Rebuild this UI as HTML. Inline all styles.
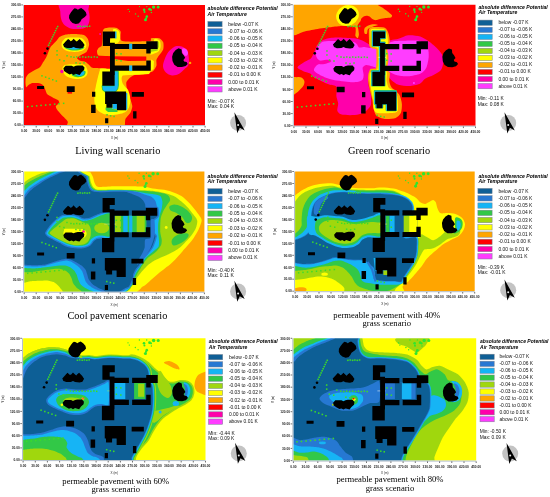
<!DOCTYPE html>
<html lang="en"><head><meta charset="utf-8"><title>Scenario maps</title>
<style>
html,body{margin:0;padding:0;background:#fff}
body{width:550px;height:497px;overflow:hidden;position:relative}
svg{position:absolute;left:0;top:0;display:block}
text{font-family:"Liberation Sans",sans-serif;fill:#000}
.tk text{font-size:3.2px;fill:#222;font-weight:bold}
.ax{font-size:3px;fill:#1a1a1a}
.lt{font-size:4.94px;font-weight:bold;font-style:italic}
.ll{font-size:4.72px;fill:#111}
.cap{font-family:"Liberation Serif",serif;font-size:10.35px}
.cap2{font-family:"Liberation Serif",serif;font-size:8.62px}
</style></head>
<body>
<svg width="550" height="497" viewBox="0 0 550 497">
<defs><clipPath id="mcp1"><rect x="0" y="0" width="181" height="120.2"/></clipPath><clipPath id="mcp2"><rect x="0" y="0" width="181.6" height="121"/></clipPath><clipPath id="mcp3"><rect x="0" y="0" width="180.2" height="120.3"/></clipPath><clipPath id="mcp4"><rect x="0" y="0" width="179.6" height="119.7"/></clipPath><clipPath id="mcp5"><rect x="0" y="0" width="182.4" height="121.8"/></clipPath><clipPath id="mcp6"><rect x="0" y="0" width="182.8" height="122.3"/></clipPath>
<filter id="bl" x="-5%" y="-5%" width="110%" height="110%"><feGaussianBlur stdDeviation="0.4"/></filter>
<g id="bld" fill="#000"><path d="M78.7 26.6H91V33.4H78.7ZM78.7 33.4H85.9V41H78.7ZM85.9 37.8H90.7V70H85.9ZM85.9 39H105V44.2H85.9ZM108.2 39H126.6V44.2H108.2ZM122.2 36.3H133.6V44.2H122.2ZM122.2 44.2H126.6V48.6H122.2ZM90.7 60.7H105V65.8H90.7ZM108.2 60.7H126.6V65.8H108.2ZM122.2 55.6H126.6V65.8H122.2ZM78.2 66.5H90.5V80.8H78.2ZM81 86.5H102V99H81ZM82.3 99H88.3V102.8H82.3ZM92.8 99H102V105.4H92.8ZM67.9 86.8H71.2V91.9H67.9ZM67 99.9H71.5V108H67ZM81 113.3H84.2V118.4H81ZM107.7 87.2H119.8V91.9H107.7ZM109 106.3H112.4V113.5H109ZM13 81H20V84H13ZM42.7 81.4H50.6V87H42.7Z"/><path d="M50.5 3.4 L49.1 4.5 L46.9 7.4 L45.1 10.3 L44.9 13.2 L46.2 15.8 L48.4 18 L51.6 19 L54.5 18.7 L56.4 16.5 L57.5 14.3 L60.7 12.1 L62.5 10 L61.8 7.4 L59.6 4.9 L57.1 3.2 L55.3 3.8 L53.8 4.9 L52.4 3.8Z"/><path d="M44 34.1 L41.5 36.7 L38.9 39.6 L40 42.1 L42.9 43.2 L47.3 43.1 L49.5 42.1 L51.6 43.1 L56 43.6 L58.9 42.9 L60.5 40 L58.5 37 L55.6 34.1 L53.8 35.6 L52.7 36.7 L51.3 35.6 L49.5 33.8 L48 35.6 L46.5 36.3 L45.5 35.2Z"/><path d="M41.5 60.9 L39.3 63.4 L40 66 L42.9 68.1 L45.5 69.6 L47.6 68.9 L49.5 70 L51.6 68.9 L53.8 69.6 L55.6 70 L57.5 67.4 L60 65.2 L60.4 62.7 L58.5 60.5 L53.8 60.5 L51.6 60.9 L49.5 61.8 L47.6 60.9Z"/><path d="M154.5 43.4 L151.6 45.2 L149.1 48.1 L148 51.8 L148.4 56.1 L150.2 59.8 L153.5 62 L157.8 62.1 L161.5 61.2 L163.6 59 L162.5 57.2 L160 56.5 L159.3 55 L161.1 52.9 L159.6 50.3 L157.8 48.1 L157.5 44.5Z"/><circle cx="23.4" cy="43.7" r="1.3"/><circle cx="20.8" cy="48.3" r="1.3"/></g>
<g id="veg" fill="#3cdc28"><rect x="32.8" y="20.9" width="1.5" height="1.5"/><rect x="31.7" y="22.9" width="1.5" height="1.5"/><rect x="30.7" y="25" width="1.5" height="1.5"/><rect x="29.7" y="27.1" width="1.5" height="1.5"/><rect x="28.7" y="29.2" width="1.5" height="1.5"/><rect x="27.7" y="31.2" width="1.5" height="1.5"/><rect x="26.7" y="33.3" width="1.5" height="1.5"/><rect x="25.7" y="35.4" width="1.5" height="1.5"/><rect x="24.7" y="37.5" width="1.5" height="1.5"/><rect x="23.7" y="39.6" width="1.5" height="1.5"/><rect x="53.2" y="20.9" width="1.5" height="1.5"/><rect x="55.5" y="20.6" width="1.5" height="1.5"/><rect x="57.9" y="20.9" width="1.5" height="1.5"/><rect x="60.1" y="20.6" width="1.5" height="1.5"/><rect x="62.5" y="20.9" width="1.5" height="1.5"/><rect x="64.8" y="20.6" width="1.5" height="1.5"/><rect x="2.8" y="101" width="1.5" height="1.5"/><rect x="7.2" y="100.6" width="1.5" height="1.5"/><rect x="11.8" y="100.2" width="1.5" height="1.5"/><rect x="16.2" y="99.8" width="1.5" height="1.5"/><rect x="20.8" y="99.4" width="1.5" height="1.5"/><rect x="25.2" y="99" width="1.5" height="1.5"/><rect x="29.8" y="98.5" width="1.5" height="1.5"/><rect x="34.2" y="98.1" width="1.5" height="1.5"/><rect x="38.8" y="97.7" width="1.5" height="1.5"/><rect x="17.1" y="70.2" width="1.5" height="1.5"/><rect x="20.8" y="71.5" width="1.5" height="1.5"/><rect x="24.3" y="72.8" width="1.5" height="1.5"/><rect x="27.9" y="74.1" width="1.5" height="1.5"/><rect x="31.5" y="75.4" width="1.5" height="1.5"/><rect x="46.2" y="51.2" width="1.5" height="1.5"/><rect x="49.1" y="51.6" width="1.5" height="1.5"/><rect x="52" y="51.2" width="1.5" height="1.5"/><rect x="55" y="51.6" width="1.5" height="1.5"/><rect x="57.9" y="51.2" width="1.5" height="1.5"/><rect x="60.8" y="51.6" width="1.5" height="1.5"/><rect x="63.7" y="51.2" width="1.5" height="1.5"/><rect x="66.5" y="51.6" width="1.5" height="1.5"/><rect x="69.5" y="51.2" width="1.5" height="1.5"/><rect x="72.3" y="51.6" width="1.5" height="1.5"/><rect x="32.2" y="45.2" width="1.5" height="1.5"/><rect x="32.2" y="49.2" width="1.5" height="1.5"/><rect x="34.8" y="54.2" width="1.5" height="1.5"/><rect x="39.2" y="55.2" width="1.5" height="1.5"/><rect x="42.2" y="50.2" width="1.5" height="1.5"/><rect x="51.2" y="57.2" width="1.5" height="1.5"/><rect x="55.2" y="57.8" width="1.5" height="1.5"/><rect x="59.2" y="57.2" width="1.5" height="1.5"/><rect x="91.8" y="48" width="1.5" height="1.5"/><rect x="91.8" y="54.5" width="1.5" height="1.5"/><rect x="96.2" y="48.2" width="1.5" height="1.5"/><rect x="96.2" y="55.2" width="1.5" height="1.5"/><rect x="82.2" y="109.2" width="1.5" height="1.5"/><rect x="85.8" y="110.2" width="1.5" height="1.5"/><rect x="89.2" y="110.8" width="1.5" height="1.5"/><g fill="#2ee62e"><circle cx="120" cy="4.9" r="1.3"/><circle cx="120.4" cy="7.2" r="1"/><circle cx="125.5" cy="4.3" r="1.4"/><circle cx="127" cy="5" r="1"/><circle cx="129.5" cy="2.2" r="1.7"/><circle cx="134.1" cy="2.2" r="1.5"/><circle cx="122.7" cy="11.7" r="1.3"/><circle cx="121.4" cy="14.9" r="1.5"/><circle cx="122" cy="13.3" r="1"/><circle cx="115.4" cy="1.7" r="0.7"/><circle cx="122.7" cy="1.7" r="0.7"/><circle cx="104.1" cy="4.5" r="0.7"/><circle cx="105.4" cy="6.7" r="0.7"/><circle cx="111.4" cy="9" r="0.7"/><circle cx="114.1" cy="11.3" r="0.7"/><circle cx="127.3" cy="7.6" r="0.7"/></g></g>
</defs>
<g transform="translate(24.1 4.9)"><g clip-path="url(#mcp1)"><g filter="url(#bl)"><rect x="-5" y="-5" width="198" height="136" fill="#FF0000"/><path d="M36.5 -2C32.1 -0.6 36.1 3.7 36.2 6.5C36.3 9.3 36.5 12.4 37.2 14.7C37.9 17 38.9 18.8 40.6 20.3C42.3 21.8 45 23.2 47.5 23.8C50 24.4 53.2 24.2 55.6 24C58 23.8 60.5 23.3 62 22.3C63.5 21.3 64.2 19.8 64.8 18C65.4 16.2 65.6 13.7 65.5 11.5C65.4 9.3 64.8 7.2 64.3 4.9C63.8 2.7 67.1 -0.8 62.5 -2C57.9 -3.2 40.9 -3.4 36.5 -2Z" fill="#FF00AA" /><path d="M154 41.2C152.6 41.1 151.9 40.8 150.3 41.8C148.7 42.8 145.8 45.1 144.2 47.2C142.6 49.3 141.5 52 140.6 54.4C139.7 56.8 138.7 59.5 138.9 61.7C139.1 63.9 140.3 66.2 141.8 67.7C143.3 69.2 145.7 70.4 147.9 70.6C150.1 70.8 152.9 70.1 155.1 68.9C157.3 67.7 159.7 64.8 161.2 63.4C162.7 62 163.4 61.9 164 60.5C164.6 59.1 164.9 57.2 164.8 55C164.7 52.8 164.5 49.1 163.5 47C162.5 44.9 160.6 43.2 159 42.2C157.4 41.2 155.4 41.3 154 41.2Z" fill="#FF00AA" /><path d="M158 44C158.5 43.2 161 43.3 162 44C163 44.7 164 46.8 164 48C164 49.2 162.8 50.8 162 51C161.2 51.2 159.7 50.2 159 49C158.3 47.8 157.5 44.8 158 44Z" fill="#FF3CFF" /><circle cx="166" cy="58" r="1.2" fill="#FFA500"/><path d="M45.4 127C39.3 125.8 44.2 118.5 43.7 116.9C43.2 115.3 41.6 114.3 40.8 113.4C40 112.5 37.5 110.2 36.6 109.2C35.7 108.2 33.7 105.8 33.1 104.9C32.5 104 31.5 102.2 31.7 101.4C31.9 100.6 35 98.6 35.2 97.9C35.4 97.2 34.6 95.8 33.8 95.1C33 94.4 29.4 93 28.2 92.3C27 91.6 24 90.3 23.2 89.4C22.4 88.5 21.6 85.6 21.1 84.5C20.6 83.4 19.8 81 19 80.3C18.2 79.6 15.3 78.4 14.1 78.2C12.9 78 9.7 78 8.5 78.2C7.3 78.4 4.9 79.8 4.2 80.3C3.5 80.8 2.4 82.6 2.1 82.4C1.8 82.2 1.4 79.3 1.4 78.2C1.4 77.1 1.4 74.3 1.7 73.2C2 72.1 3.2 69.9 4.2 69C5.2 68.1 8.6 66.2 9.9 65.5C11.2 64.8 14.5 63.5 15.5 62.7C16.5 61.9 17.6 59.5 18.3 58.5C19 57.5 20.5 55.2 21.1 54.2C21.7 53.2 22.6 51.4 23.2 50C23.8 48.6 25.4 43.8 26.5 42.2C27.6 40.6 31.4 37.1 32.4 35.9C33.4 34.7 34.4 32.9 35.4 32.2C36.4 31.5 39 30.2 40.9 29.8C42.8 29.4 49.4 29.1 51.7 29.2C54 29.3 58.8 29.8 60.2 30.4C61.6 31 63.2 33 63.8 34.1C64.4 35.2 65 38.3 65 39.5C65 40.7 64.1 43.4 63.8 44.3C63.4 45.2 62.7 46.7 62 47.3C61.3 47.9 58.7 49 57.8 49.5C56.9 50 55.1 51 54.5 51.5C53.9 52 52.7 52.9 52.9 53.4C53.1 53.9 55 55.4 56 55.8C57 56.2 60.4 56.5 61.4 57C62.4 57.5 64.3 59.4 65 60C65.7 60.6 66.7 62.1 67.5 62.5C68.3 62.9 70.2 63.1 71.7 63.2C73.2 63.3 78.3 63.5 80 63.5C81.7 63.5 85.3 64.8 86 63.5C86.7 62.2 87.2 53.4 86 52C84.8 50.6 77.5 52.1 76 51.8C74.5 51.5 73.9 50.2 73.5 49.5C73.1 48.8 72.8 46.8 72.9 46C73 45.2 74 43.6 74.5 43C75 42.4 77 42.2 77.5 41.2C78 40.2 78.3 35.7 78.4 34C78.5 32.3 78.4 28.2 78.6 27C78.8 25.8 79.3 24.3 80 23.8C80.7 23.3 83.6 22.7 85 22.6C86.4 22.5 90.7 22.4 92 22.9C93.3 23.4 95.8 24.9 96.5 26.5C97.2 28.1 94.8 35.1 98.1 36.2C101.4 37.3 121.7 36.5 125.1 36.2C128.5 35.9 125.8 33.6 127 33.3C128.2 33 133.8 32.8 135.2 33.3C136.6 33.8 138.6 36.1 139.1 37.4C139.6 38.7 139.6 43.1 139.1 44.6C138.6 46.1 136 49 135.2 50.2C134.4 51.4 132.6 53.8 132.3 55C132 56.2 132.7 59.5 132.3 60.8C131.9 62.1 130.1 65.3 128.7 66.3C127.3 67.3 122.4 68.8 120.3 69.2C118.2 69.6 112.3 69.6 110.6 70C108.9 70.4 106.8 72 105.8 72.9C104.8 73.8 102.5 76.1 102.2 77.7C101.9 79.3 102.9 84.9 103.4 86.9C103.9 88.9 105.7 92.9 106.3 94.6C106.9 96.3 108.2 99.8 108.2 101.3C108.2 102.8 107.1 106.3 106.3 107.8C105.5 109.3 102.6 111.7 101.4 113.9C100.2 116.1 102.6 125.5 96.1 127C89.6 128.5 51.5 128.2 45.4 127Z" fill="#FFA500" /><path d="M72 50.6 L86 51.4 L122.2 51.6 L122.2 55.8 L104 56 L86 53.6 L72 52.4Z" fill="#FF0000" /><circle cx="76" cy="29" r="1" fill="#FF00AA"/><rect x="43.5" y="86.5" width="4.5" height="2.2" fill="#FF0000"/><path d="M37.5 38.5C37.7 37.1 38.6 35.9 39.5 35C40.4 34.1 41.2 33.3 43 32.9C44.8 32.5 47.7 32.6 50 32.6C52.3 32.6 55.2 32.5 57 33C58.8 33.5 59.6 34.6 60.5 35.8C61.4 37 62.2 38.8 62.3 40.1C62.4 41.4 61.9 42.7 61 43.7C60.1 44.7 59 45.6 57.2 46.1C55.5 46.6 52.8 47 50.5 47C48.2 47 45.3 46.8 43.3 46.1C41.3 45.5 39.5 44.4 38.5 43.1C37.5 41.8 37.3 39.9 37.5 38.5Z" fill="#FFFF00" /><path d="M41.5 41.5C44.1 41 56.2 41 59 41.5C61.8 42 59.4 43.6 58 44.3C56.6 45 53 45.6 50.5 45.6C48 45.6 44.7 45 43.2 44.3C41.7 43.6 38.9 42 41.5 41.5Z" fill="#32C846" /><path d="M45 42C46.6 41.7 54.5 41.6 56 42C57.5 42.4 55 43.8 54 44.2C53 44.6 51.2 44.6 50 44.6C48.8 44.6 47.3 44.4 46.5 44C45.7 43.6 43.4 42.3 45 42Z" fill="#14B4F5" /><path d="M38.3 64C38.2 62.5 39 61.2 40 60.5C41 59.8 42 59.8 44 59.6C46 59.4 49.5 59.4 52 59.4C54.5 59.4 57.3 59.2 59 59.6C60.7 60 61.2 60.9 62 62C62.8 63.1 63.4 65.1 63.5 66.5C63.6 67.9 63.3 69.4 62.5 70.5C61.7 71.6 60.2 72.7 58.5 73.3C56.8 73.9 54.2 74.1 52 74C49.8 73.9 46.9 73.2 45 72.5C43.1 71.8 41.6 70.9 40.5 69.5C39.4 68.1 38.4 65.5 38.3 64Z" fill="#FFFF00" /><path d="M48 69C49.5 68.1 56.8 66.3 59 66C61.2 65.7 61.3 66.2 61.5 67C61.7 67.8 61 69.6 60 70.5C59 71.4 57.2 72 55.5 72.2C53.8 72.4 51.2 72 50 71.5C48.8 71 46.5 69.9 48 69Z" fill="#32C846" /><path d="M52 69C52.7 68.2 57.1 66.8 58.5 66.5C59.9 66.2 60.3 66.9 60.3 67.5C60.3 68.1 59.5 69.7 58.5 70.3C57.5 70.9 55.6 71.4 54.5 71.2C53.4 71 51.3 69.8 52 69Z" fill="#14B4F5" /><circle cx="37.8" cy="66.6" r="1.7" fill="#FF00AA"/><path d="M78.5 63.6C74 63.5 76.3 64.6 75.8 65.4C75.3 66.2 74.9 68.3 74.5 69.7C74.1 71.1 73.4 74.1 73 75.7C72.6 77.3 72 80.1 71.7 81.7C71.4 83.3 70.7 86.2 70.5 87.8C70.3 89.4 70.2 92.2 70.2 93.8C70.2 95.4 70.4 98.4 70.8 99.9C71.2 101.4 72.4 104.1 73.5 105.3C74.6 106.5 77.6 108.2 79 108.8C80.4 109.4 82.6 109.6 84 109.8C85.4 110 87.6 110.1 89.3 110C91 109.9 94.9 109.4 96.6 108.9C98.3 108.4 100.9 107.4 102 106.5C103.1 105.6 104.4 103.7 105 102.3C105.6 100.9 106.1 97.8 106.2 96.2C106.3 94.6 105.9 91.7 105.6 90.2C105.3 88.7 104.4 85.9 103.8 84.8C103.2 83.7 101.5 82.6 100.8 81.7C100.1 80.8 98.8 79.2 98.4 78.1C98 77 97.4 74.4 97.5 73.3C97.6 72.2 98.5 70.5 99 69.7C99.5 68.9 100.6 67.9 101.6 67.5C102.6 67.1 105.1 66.8 106.2 66.6C107.3 66.4 113.6 66.4 109.9 66C106.2 65.6 83 63.7 78.5 63.6Z" fill="#FFFF00" /><path d="M90.7 65.5 L127 65.8 L129.5 64 L129.8 56 L127 54.5 L126.6 66 L125 69 L115 69.8 L105 70 L98 70.5 L90.7 70Z" fill="#FFFF00" /><path d="M89 24.6C89.6 23.5 92.4 24.5 93.5 25.2C94.6 25.9 95.5 27.3 95.8 29C96.1 30.7 96.2 33.9 95.6 35.5C95 37.1 93.5 38.1 92 38.6C90.5 39.1 87.4 39.4 86.5 38.6C85.6 37.8 85.9 35.1 86.5 34C87.1 32.9 89.6 33.6 90 32C90.4 30.4 88.4 25.7 89 24.6Z" fill="#FFFF00" /><path d="M126 49.3C126.5 50 127.7 49.4 129 49C130.3 48.6 132.8 47.8 134 46.8C135.2 45.8 135.9 44.5 136.3 43C136.7 41.5 136.6 38.9 136.3 37.5C136 36.1 135.6 35.3 134.5 34.8C133.4 34.3 130.8 32.9 130 34.5C129.2 36.1 130.7 42.8 130 44.5C129.3 46.2 126.7 44.2 126 45C125.3 45.8 125.5 48.6 126 49.3Z" fill="#FFFF00" /><path d="M126.6 44.2 L133.6 44.2 L134.8 42 L134.8 37 L133.6 36.3 L133.6 45.5 L126.6 47Z" fill="#A0D70F" /><path d="M90.5 66.5 L93.6 66.8 L93.8 80 L93.2 83.5 L91.2 86.3 L81.3 86.5 L79 84.5 L78.6 81.3 L90.5 81.3Z" fill="#32C846" stroke="#32C846" stroke-width="2.2" stroke-linejoin="round" /><path d="M90.5 66.5 L93.6 66.8 L93.8 80 L93.2 83.5 L91.2 86.3 L81.3 86.5 L79 84.5 L78.6 81.3 L90.5 81.3Z" fill="#14B4F5" stroke="#14B4F5" stroke-width="0.3" stroke-linejoin="round" /><path d="M81.5 102.5 L88.3 102.5 L88.3 104 L93 104.5 L93.5 107 L84 107 L81.5 105Z" fill="#32C846" /><path d="M88.3 98.5 L93 98.5 L93 104 L88.3 104Z" fill="#14B4F5" /><path d="M101.8 88 L103.2 88 L103.2 104 L101.8 105.8Z" fill="#14B4F5" /><path d="M90.8 26.6 L92.4 26.6 L92.4 33.6 L90.8 33.6Z" fill="#14B4F5" /><path d="M105 38.8 L108.2 38.8 L108.2 44.4 L105 44.4Z" fill="#14B4F5" /><path d="M105 60.5 L108.2 60.5 L108.2 66.2 L105 66.2Z" fill="#14B4F5" /><g transform="scale(1.0000 1.0000)"><use href="#veg"/><use href="#bld"/></g></g></g><path d="M-0.6 0V120.7H181" stroke="#b4bfcc" stroke-width="1" fill="none"/><path d="M-2.8 120.2H-1.2M-2.8 108.2H-1.2M-2.8 96.2H-1.2M-2.8 84.1H-1.2M-2.8 72.1H-1.2M-2.8 60.1H-1.2M-2.8 48.1H-1.2M-2.8 36.1H-1.2M-2.8 24H-1.2M-2.8 12H-1.2M-2.8 0H-1.2M0 121V122.6M12.1 121V122.6M24.1 121V122.6M36.2 121V122.6M48.3 121V122.6M60.3 121V122.6M72.4 121V122.6M84.5 121V122.6M96.5 121V122.6M108.6 121V122.6M120.7 121V122.6M132.7 121V122.6M144.8 121V122.6M156.9 121V122.6M168.9 121V122.6M181 121V122.6" stroke="#333" stroke-width="0.7" fill="none"/><g class="tk" text-anchor="end"><text x="-3.4" y="121.4">0.00</text><text x="-3.4" y="109.4">30.00</text><text x="-3.4" y="97.4">60.00</text><text x="-3.4" y="85.3">90.00</text><text x="-3.4" y="73.3">120.00</text><text x="-3.4" y="61.3">150.00</text><text x="-3.4" y="49.3">180.00</text><text x="-3.4" y="37.3">210.00</text><text x="-3.4" y="25.2">240.00</text><text x="-3.4" y="13.2">270.00</text><text x="-3.4" y="1.2">300.00</text></g><g class="tk" text-anchor="middle"><text x="0" y="127.4">0.00</text><text x="12.1" y="127.4">30.00</text><text x="24.1" y="127.4">60.00</text><text x="36.2" y="127.4">90.00</text><text x="48.3" y="127.4">120.00</text><text x="60.3" y="127.4">150.00</text><text x="72.4" y="127.4">180.00</text><text x="84.5" y="127.4">210.00</text><text x="96.5" y="127.4">240.00</text><text x="108.6" y="127.4">270.00</text><text x="120.7" y="127.4">300.00</text><text x="132.7" y="127.4">330.00</text><text x="144.8" y="127.4">360.00</text><text x="156.9" y="127.4">390.00</text><text x="168.9" y="127.4">420.00</text><text x="181" y="127.4">450.00</text></g><text class="ax" text-anchor="middle" x="90.5" y="134">X (m)</text><text class="ax" text-anchor="middle" transform="translate(-19.3 60.1) rotate(-90)">Y (m)</text><text class="lt" x="183.5" y="5.2" textLength="70" lengthAdjust="spacingAndGlyphs" style="font-size:5.08px">absolute difference Potential</text><text class="lt" x="183.5" y="11.2" textLength="39.2" lengthAdjust="spacingAndGlyphs" style="font-size:5.08px">Air Temperature</text><rect x="183.8" y="16.6" width="14.2" height="5.3" fill="#0F5F96" stroke="#76828f" stroke-width="0.5"/><text class="ll" x="204.1" y="20.7" style="font-size:4.98px">below -0.07 K</text><rect x="183.8" y="23.8" width="14.2" height="5.3" fill="#2878D2" stroke="#76828f" stroke-width="0.5"/><text class="ll" x="204.1" y="27.9" style="font-size:4.98px">-0.07 to -0.06 K</text><rect x="183.8" y="31" width="14.2" height="5.3" fill="#14B4F5" stroke="#76828f" stroke-width="0.5"/><text class="ll" x="204.1" y="35.2" style="font-size:4.98px">-0.06 to -0.05 K</text><rect x="183.8" y="38.3" width="14.2" height="5.3" fill="#32C846" stroke="#76828f" stroke-width="0.5"/><text class="ll" x="204.1" y="42.4" style="font-size:4.98px">-0.05 to -0.04 K</text><rect x="183.8" y="45.5" width="14.2" height="5.3" fill="#A0D70F" stroke="#76828f" stroke-width="0.5"/><text class="ll" x="204.1" y="49.7" style="font-size:4.98px">-0.04 to -0.03 K</text><rect x="183.8" y="52.8" width="14.2" height="5.3" fill="#FFFF00" stroke="#76828f" stroke-width="0.5"/><text class="ll" x="204.1" y="56.9" style="font-size:4.98px">-0.03 to -0.02 K</text><rect x="183.8" y="60" width="14.2" height="5.3" fill="#FFA500" stroke="#76828f" stroke-width="0.5"/><text class="ll" x="204.1" y="64.2" style="font-size:4.98px">-0.02 to -0.01 K</text><rect x="183.8" y="67.3" width="14.2" height="5.3" fill="#FF0000" stroke="#76828f" stroke-width="0.5"/><text class="ll" x="204.1" y="71.4" style="font-size:4.98px">-0.01 to 0.00 K</text><rect x="183.8" y="74.5" width="14.2" height="5.3" fill="#FF00AA" stroke="#76828f" stroke-width="0.5"/><text class="ll" x="204.1" y="78.7" style="font-size:4.98px">0.00 to 0.01 K</text><rect x="183.8" y="81.8" width="14.2" height="5.3" fill="#FF3CFF" stroke="#76828f" stroke-width="0.5"/><text class="ll" x="204.1" y="85.9" style="font-size:4.98px">above 0.01 K</text><text class="ll" x="183.5" y="98.1" style="font-size:4.98px">Min: -0.07 K</text><text class="ll" x="183.5" y="103.5" style="font-size:4.98px">Max: 0.04 K</text><circle cx="214" cy="118" r="8" fill="#c3c3c3"/><path d="M210.3 107.3L220.6 125.6L215.7 122.8L213.1 128.4Z" fill="#000"/><circle cx="214" cy="120" r="1" fill="#e8e8e8"/></g><text class="cap" text-anchor="middle" x="117.8" y="154.3">Living wall scenario</text>
<g transform="translate(293.9 4.7)"><g clip-path="url(#mcp2)"><g filter="url(#bl)"><rect x="-5" y="-5" width="198" height="136" fill="#FF0000"/><path d="M-2 -2C6.6 -5.2 75.3 -2.2 83.9 -2C92.5 -1.8 83.6 -0.2 84 0.3C84.4 0.8 87.3 2.2 88.3 2.9C89.3 3.5 92.7 6 93.7 6.8C94.7 7.6 97.8 10 98.1 10.6C98.4 11.2 97.7 12.4 97 12.7C96.3 13 92.6 13.1 91.5 13.3C90.4 13.5 87.1 14.2 86.1 14.4C85.1 14.6 82.5 15.5 81.7 15.5C80.9 15.5 79 14.7 78.5 14.4C78 14.1 76.8 12.5 76.3 12.2C75.8 11.9 74.2 11.2 73.5 11.1C72.8 11 70.3 11.4 69.7 11.7C69.1 12 67.8 13.3 67.5 13.8C67.2 14.3 66.8 16.1 66.5 16.6C66.2 17.1 65.1 18.3 64.8 18.7C64.5 19.1 63.6 20.4 63.6 21C63.6 21.6 64.4 24.1 64.5 25C64.6 25.9 65.1 29.1 65 30C64.9 30.9 64.2 33.4 63.9 33.5C63.5 33.6 61.7 31.6 61.5 31C61.3 30.4 61.8 27.8 61.8 27C61.8 26.2 62 23.2 61.3 22.6C60.6 22.1 56.3 21.6 55 21.5C53.7 21.4 49.8 21.2 48.3 21.3C46.8 21.4 41.8 21.8 40 22C38.2 22.2 31.8 23 30 23.3C28.2 23.6 23.7 24.2 21.7 24.6C19.7 25 12.1 26.5 9.7 27C7.3 27.5 -0.8 32.7 -2 29.8C-3.2 26.9 -10.6 1.2 -2 -2Z" fill="#FFA500" /><path d="M-2 74C-1.2 71.2 1.3 72.7 3 72.5C4.7 72.3 6.8 72.3 8 73C9.2 73.7 10.2 75.2 10.5 76.5C10.8 77.8 10.2 79.6 9.5 81C8.8 82.4 7.2 83.8 6 85C4.8 86.2 3.3 87.8 2 88.5C0.7 89.2 -1.3 91.9 -2 89.5C-2.7 87.1 -2.8 76.8 -2 74Z" fill="#FFA500" /><ellipse cx="53.6" cy="10.8" rx="11.6" ry="10.2" fill="#FFFF00" transform="rotate(-25 53.6 10.8)"/><path d="M3.6 62.6C3.9 61.4 9.1 58.3 10.9 57.1C12.7 55.9 15.9 54.9 17.2 53.5C18.5 52.1 20 48.1 20.8 46.3C21.6 44.5 22.4 41.5 23.5 40C24.6 38.5 27.3 36.3 29 35.4C30.7 34.5 34.3 33.7 36.2 33.3C38.1 32.9 40.3 32.7 43.4 32.7C46.5 32.7 56.6 33.2 59.7 33.6C62.8 34 65.3 34.8 67 35.4C68.7 36 71.1 37.4 72.4 38.1C73.7 38.8 75.1 40 76.9 40.5C78.7 41 84.8 38.1 86 41.5C87.2 44.9 87.2 62.6 86 66C84.8 69.4 78.3 66.5 77 67C75.7 67.5 76.4 68.7 76 70C75.6 71.3 74.3 75.1 74.2 77C74.1 78.9 75.1 82.3 75.5 84C75.9 85.7 76.8 87.9 77 90C77.2 92.1 77.6 97.9 77 100C76.4 102.1 74 104.7 72.4 106C70.8 107.3 67.4 109 65.2 109.6C63 110.2 58.5 110.5 56.1 110.5C53.7 110.5 48.7 110.2 47 109.6C45.3 109 43.8 107.4 43.4 106C43 104.6 44.4 100.7 44.3 98.8C44.2 96.9 42.7 93.7 42.5 91.5C42.3 89.3 43.5 83.6 42.5 82C41.5 80.4 37.4 80.6 35.3 79.8C33.2 79 29.2 77.2 27.1 76.2C25 75.2 21.3 73.5 19.9 72.5C18.5 71.5 17.8 69.7 16.3 68.9C14.8 68.1 10.7 67 9 66.2C7.3 65.4 3.3 63.8 3.6 62.6Z" fill="#FF00AA" /><path d="M22.6 44.5C23.3 43 25.5 39.2 27.1 38.1C28.7 37 30.1 36.4 34.4 36.3C38.7 36.2 55.6 36.3 59.7 37.2C63.8 38.1 63.7 42 65.2 42.7C66.7 43.4 69.2 42.2 70.6 42.3C72 42.4 73.9 43.2 76 43.3C78.1 43.4 84.7 40.7 86 43.3C87.3 45.9 87 60.1 86 62.5C85 64.9 80 61.8 78.2 61.5C76.4 61.2 73.7 60.1 72.4 60.3C71.1 60.5 69.2 61.6 68.8 62.9C68.4 64.2 69.8 68.6 69.7 70.2C69.6 71.8 69.5 74.2 68.4 75.2C67.3 76.2 63.9 77.2 61.5 77.4C59.1 77.6 53.6 77 50.7 76.7C47.8 76.4 42.5 75.8 39.8 75.2C37.1 74.6 33 73.3 30.8 72.5C28.6 71.7 25 69.9 23.5 68.9C22 67.9 20 66.4 19.9 65.3C19.8 64.2 21.6 61.8 22.6 60.8C23.6 59.8 27 58.5 27.1 57.5C27.2 56.5 23.9 54.6 23.2 53.5C22.5 52.4 21.8 50.2 21.7 49C21.6 47.8 21.9 46 22.6 44.5Z" fill="#FF3CFF" /><path d="M19 57.5C20 56.8 31 55.1 34 55C37 54.9 38 56.2 37 57C36 57.8 31 59.4 28 59.5C25 59.6 18 58.2 19 57.5Z" fill="#FF00AA" /><path d="M90.7 44C90.7 40.1 89.9 38.1 90.7 37C91.5 35.9 95.1 35.9 97 35.5C98.9 35.1 102.3 34.8 104.6 34.1C106.9 33.4 111.4 30.8 114.3 30.5C117.2 30.2 123.6 30.9 126.3 31.7C129 32.5 132.7 35 134.8 36.5C136.9 38 140.2 40.8 142 42.6C143.8 44.4 147.1 47.7 148.1 49.8C149.1 51.9 149.5 56.2 149.3 58.3C149.1 60.4 148.2 63.9 146.9 65.5C145.6 67.1 141.7 69.2 139.6 70.3C137.5 71.4 133 72.9 131.2 74C129.4 75.1 128.2 77.8 126.3 78.8C124.4 79.8 119.6 81 116.7 81.2C113.8 81.4 107.2 80.8 104.6 80C102 79.2 98.8 76.5 97.3 75.2C95.8 73.9 94.6 71.5 93.7 70.3C92.8 69.1 91.1 69.5 90.7 66C90.3 62.5 90.7 47.9 90.7 44Z" fill="#FF00AA" /><path d="M90.7 45C91.1 41.7 92.8 40.1 94 39C95.2 37.9 97.4 36.9 99.8 36.5C102.2 36.1 108.5 36 112 36C115.5 36 123.4 35.6 126.3 36.5C129.2 37.4 132.5 40.5 133.6 42.6C134.7 44.7 135 49.5 134.8 52.2C134.6 54.9 133.5 60.8 132.4 63.1C131.3 65.4 128.7 68 126.3 69.1C123.9 70.2 117.5 71.4 114.3 71.6C111.1 71.8 104.8 71 102.2 70.3C99.6 69.6 96.4 67.5 94.9 66.7C93.4 65.9 91.3 66.9 90.7 64C90.1 61.1 90.3 48.3 90.7 45Z" fill="#FF3CFF" /><circle cx="120" cy="78.3" r="1.1" fill="#FF3CFF"/><path d="M76.3 65.7C74.2 66.9 74.3 71.7 74.2 74.2C74.1 76.7 75.3 81.9 75.9 84.7C76.5 87.5 78 92.8 78.5 95.3C79 97.8 78.9 101.6 79.5 103.7C80.1 105.8 81.2 109.7 82.7 111.1C84.2 112.5 88.6 114 91.1 114.3C93.6 114.6 99.6 114 101.7 113.2C103.8 112.4 106.2 109.8 107 108C107.8 106.2 108.1 101.8 108 99.5C107.9 97.2 106.7 92.9 105.9 91.1C105.1 89.3 102.8 86.9 101.7 85.8C100.6 84.7 98.3 83.9 97.5 82.6C96.7 81.3 95.6 78.3 95.4 76.3C95.2 74.3 96.5 69.3 95.8 67.8C95.1 66.3 92.6 65.3 90 65C87.4 64.7 78.4 64.5 76.3 65.7Z" fill="#FFA500" /><path d="M77.2 66C75.3 67.2 75.8 71.7 75.8 74.2C75.8 76.7 76.7 81.9 77.2 84.7C77.7 87.5 78.9 92.8 79.2 95.3C79.5 97.8 79.4 102 79.8 103.7C80.2 105.4 81 107.4 82.5 108C84 108.6 88.7 108.5 91.1 108.5C93.5 108.5 98.8 108.3 100.5 108C102.2 107.7 103.3 107.1 103.8 106C104.3 104.9 104.1 101.4 104 99.5C103.9 97.6 103.9 93.3 103.4 91.5C102.9 89.7 101.6 87.1 100.5 86C99.4 84.9 96 84.6 95 83.3C94 82 93.1 78.4 92.8 76.3C92.5 74.2 93.4 69.3 93 67.8C92.6 66.3 92.1 65.2 90 65C87.9 64.8 79.1 64.8 77.2 66Z" fill="#FFFF00" /><path d="M75.8 28C75.8 27.1 75.8 25 76 24.6C76.2 24.2 77.3 23.4 78.5 23.3C79.7 23.2 88.9 23.3 90.1 23.6C91.3 23.9 92.8 26.4 93.2 27.3C93.6 28.2 94.7 33.4 94.8 34.4C94.9 35.4 94.8 38.1 94.6 39C94.4 39.9 92.6 44.1 92.5 45C92.4 45.9 93.4 49 93.5 50C93.6 51 93.6 56.1 93.5 57C93.4 57.9 92.8 60.6 92.5 61C92.2 61.4 90.2 61.5 90 62C89.8 62.5 91.1 66.6 90 67C88.9 67.4 78.1 67.2 77 67C75.9 66.8 76.8 65.2 77.3 65C77.8 64.8 82.1 64.9 82.6 64.3C83.1 63.7 83.3 59.2 83.4 58C83.5 56.8 83.4 51.2 83.4 50C83.4 48.8 83.4 44.6 83 44C82.6 43.4 79.6 43.2 79 43C78.4 42.8 76.5 41.6 76.3 41C76 40.4 76 37.1 76 36C76 34.9 75.8 28.9 75.8 28Z" fill="#FFFF00" stroke="#FFA500" stroke-width="1.8" stroke-linejoin="round"/><path d="M70.6 28.5C70.3 27.5 69.8 24.4 71 23C72.2 21.6 75.3 20.2 77.5 19.8C79.7 19.4 83.9 19.9 84 20.3C84.1 20.7 79.7 21.5 78 22.2C76.3 22.9 74.8 23.4 74 24.5C73.2 25.6 73.6 28.3 73 29C72.4 29.7 70.9 29.5 70.6 28.5Z" fill="#FFA500" /><path d="M78.7 26.6H91V33.4H85.9V41H78.7ZM85.9 37.8H90.7V70H85.9ZM78.2 66.5H90.5V80.8H78.2ZM81 86.5H102V105.4H92.8V99H88.3V102.8H82.3V99H81Z" fill="none" stroke="#32C846" stroke-width="2.2" stroke-linejoin="round" /><path d="M78.7 26.6H91V33.4H85.9V41H78.7ZM85.9 37.8H90.7V70H85.9ZM78.2 66.5H90.5V80.8H78.2ZM81 86.5H102V105.4H92.8V99H88.3V102.8H82.3V99H81Z" fill="none" stroke="#14B4F5" stroke-width="1.1" stroke-linejoin="round" /><path d="M84 52.6H92.5" stroke="#ffe9a0" stroke-width="0.7"/><g transform="scale(1.0033 1.0067)"><use href="#veg"/><use href="#bld"/></g></g></g><path d="M-0.6 0V121.5H181.6" stroke="#b4bfcc" stroke-width="1" fill="none"/><path d="M-2.8 121H-1.2M-2.8 108.9H-1.2M-2.8 96.8H-1.2M-2.8 84.7H-1.2M-2.8 72.6H-1.2M-2.8 60.5H-1.2M-2.8 48.4H-1.2M-2.8 36.3H-1.2M-2.8 24.2H-1.2M-2.8 12.1H-1.2M-2.8 0H-1.2M0 121.8V123.4M12.1 121.8V123.4M24.2 121.8V123.4M36.3 121.8V123.4M48.4 121.8V123.4M60.5 121.8V123.4M72.6 121.8V123.4M84.7 121.8V123.4M96.9 121.8V123.4M109 121.8V123.4M121.1 121.8V123.4M133.2 121.8V123.4M145.3 121.8V123.4M157.4 121.8V123.4M169.5 121.8V123.4M181.6 121.8V123.4" stroke="#333" stroke-width="0.7" fill="none"/><g class="tk" text-anchor="end"><text x="-3.4" y="122.2">0.00</text><text x="-3.4" y="110.1">30.00</text><text x="-3.4" y="98">60.00</text><text x="-3.4" y="85.9">90.00</text><text x="-3.4" y="73.8">120.00</text><text x="-3.4" y="61.7">150.00</text><text x="-3.4" y="49.6">180.00</text><text x="-3.4" y="37.5">210.00</text><text x="-3.4" y="25.4">240.00</text><text x="-3.4" y="13.3">270.00</text><text x="-3.4" y="1.2">300.00</text></g><g class="tk" text-anchor="middle"><text x="0" y="128.2">0.00</text><text x="12.1" y="128.2">30.00</text><text x="24.2" y="128.2">60.00</text><text x="36.3" y="128.2">90.00</text><text x="48.4" y="128.2">120.00</text><text x="60.5" y="128.2">150.00</text><text x="72.6" y="128.2">180.00</text><text x="84.7" y="128.2">210.00</text><text x="96.9" y="128.2">240.00</text><text x="109" y="128.2">270.00</text><text x="121.1" y="128.2">300.00</text><text x="133.2" y="128.2">330.00</text><text x="145.3" y="128.2">360.00</text><text x="157.4" y="128.2">390.00</text><text x="169.5" y="128.2">420.00</text><text x="181.6" y="128.2">450.00</text></g><text class="ax" text-anchor="middle" x="90.8" y="134.8">X (m)</text><text class="ax" text-anchor="middle" transform="translate(-19.3 60.5) rotate(-90)">Y (m)</text><text class="lt" x="184.6" y="4" textLength="69.3" lengthAdjust="spacingAndGlyphs" style="font-size:5.03px">absolute difference Potential</text><text class="lt" x="184.6" y="9.6" textLength="38.8" lengthAdjust="spacingAndGlyphs" style="font-size:5.03px">Air Temperature</text><rect x="184.1" y="15.4" width="14.2" height="5.3" fill="#0F5F96" stroke="#76828f" stroke-width="0.5"/><text class="ll" x="204.6" y="19.6" style="font-size:4.93px">below -0.07 K</text><rect x="184.1" y="22.5" width="14.2" height="5.3" fill="#2878D2" stroke="#76828f" stroke-width="0.5"/><text class="ll" x="204.6" y="26.6" style="font-size:4.93px">-0.07 to -0.06 K</text><rect x="184.1" y="29.5" width="14.2" height="5.3" fill="#14B4F5" stroke="#76828f" stroke-width="0.5"/><text class="ll" x="204.6" y="33.7" style="font-size:4.93px">-0.06 to -0.05 K</text><rect x="184.1" y="36.5" width="14.2" height="5.3" fill="#32C846" stroke="#76828f" stroke-width="0.5"/><text class="ll" x="204.6" y="40.7" style="font-size:4.93px">-0.05 to -0.04 K</text><rect x="184.1" y="43.6" width="14.2" height="5.3" fill="#A0D70F" stroke="#76828f" stroke-width="0.5"/><text class="ll" x="204.6" y="47.7" style="font-size:4.93px">-0.04 to -0.03 K</text><rect x="184.1" y="50.6" width="14.2" height="5.3" fill="#FFFF00" stroke="#76828f" stroke-width="0.5"/><text class="ll" x="204.6" y="54.8" style="font-size:4.93px">-0.03 to -0.02 K</text><rect x="184.1" y="57.7" width="14.2" height="5.3" fill="#FFA500" stroke="#76828f" stroke-width="0.5"/><text class="ll" x="204.6" y="61.8" style="font-size:4.93px">-0.02 to -0.01 K</text><rect x="184.1" y="64.7" width="14.2" height="5.3" fill="#FF0000" stroke="#76828f" stroke-width="0.5"/><text class="ll" x="204.6" y="68.8" style="font-size:4.93px">-0.01 to 0.00 K</text><rect x="184.1" y="71.7" width="14.2" height="5.3" fill="#FF00AA" stroke="#76828f" stroke-width="0.5"/><text class="ll" x="204.6" y="75.9" style="font-size:4.93px">0.00 to 0.01 K</text><rect x="184.1" y="78.8" width="14.2" height="5.3" fill="#FF3CFF" stroke="#76828f" stroke-width="0.5"/><text class="ll" x="204.6" y="82.9" style="font-size:4.93px">above 0.01 K</text><text class="ll" x="183.8" y="95.6" style="font-size:4.93px">Min: -0.11 K</text><text class="ll" x="183.8" y="101.3" style="font-size:4.93px">Max: 0.08 K</text><circle cx="214.3" cy="118.3" r="8" fill="#c3c3c3"/><path d="M210.6 107.6L220.9 125.9L216 123.1L213.4 128.7Z" fill="#000"/><circle cx="214.3" cy="120.3" r="1" fill="#e8e8e8"/></g><text class="cap" text-anchor="middle" x="389.1" y="154.3">Green roof scenario</text>
<g transform="translate(24.2 171.5)"><g clip-path="url(#mcp3)"><g filter="url(#bl)"><rect x="-5" y="-5" width="198" height="136" fill="#0F5F96"/><path d="M100 19.6C100.5 19.4 109.3 20.5 112 21C114.7 21.5 118.1 23.1 120 23.7C121.9 24.3 125.1 24.8 126.5 25.6C127.9 26.4 129.8 28.3 130.5 29.6C131.2 30.9 131.7 34.3 132.1 35.2C132.5 36.1 134.9 36.3 133.6 36.5C132.3 36.7 123.9 37 122.2 36.5C120.5 36 121.4 34 121 33C120.6 32 119.8 30 119 29C118.2 28 116.5 26.4 115 25.5C113.5 24.6 110 23.3 108 22.5C106 21.7 99.5 19.8 100 19.6Z" fill="#2878D2" /><path d="M61.8 -2C45 -1.1 62.5 3.1 62.8 5C63.1 6.9 63.5 10.3 64 12C64.5 13.7 65.7 16.5 66.5 17.5C67.3 18.5 68.7 19.3 70 19.6C71.3 19.9 73.5 20 76 20C78.5 20 85.3 19.7 89 19.6C92.7 19.5 100.5 19.4 103.6 19.6C106.7 19.8 109.8 20.5 112 21C114.2 21.5 118.1 23.1 120 23.7C121.9 24.3 125.1 24.8 126.5 25.6C127.9 26.4 129.8 28.3 130.5 29.6C131.2 30.9 131.7 34.2 132.1 35.2C132.5 36.2 133.6 35.7 133.8 37C134 38.3 134.6 43.3 133.8 45C133 46.7 128.8 48 128.1 49.7C127.4 51.4 128.6 56.2 128.9 57.8C129.2 59.4 129.6 61.1 130 62C130.4 62.9 131.9 63.5 132 64.5C132.1 65.5 131.2 68.1 130.7 69.6C130.2 71.1 129 74.5 128.2 76C127.4 77.5 125.4 79.7 124.4 81C123.4 82.3 121.4 84.4 120.5 85.5C119.6 86.6 118.1 88.2 117.4 89.3C116.7 90.4 116.2 92.7 115.5 93.8C114.8 94.9 113.1 96.4 112.3 97.6C111.5 98.8 110.1 101.5 109.7 102.7C109.3 103.9 109.7 104.8 109.1 106.5C108.5 108.2 106.5 113.9 105.3 115.4C104.1 116.9 101.6 116.5 100.2 118C98.8 119.5 83.2 125.8 95 127C106.8 128.2 176.5 144.2 189 127C201.5 109.8 206 15.2 189 -2C172 -19.2 78.6 -2.9 61.8 -2Z" fill="#14B4F5" stroke="#2878D2" stroke-width="1.4" stroke-linejoin="round"/><path d="M62.8 -2C46.1 -1.1 63.5 3.1 63.8 5C64.1 6.9 64.5 10.4 65 12C65.5 13.6 66.5 15.9 67.2 16.8C67.9 17.7 69.3 18.5 70.5 18.8C71.7 19.1 73.5 19.2 76 19.2C78.5 19.2 85.3 18.8 89 18.8C92.7 18.8 100.5 18.7 103.6 18.9C106.7 19.1 109.6 19.6 112 20C114.4 20.4 119.3 21.3 121.7 21.7C124.1 22.1 127.8 22.3 129.7 22.7C131.6 23.1 135 23.5 136.1 24.5C137.2 25.5 138 28.4 138.2 30.1C138.4 31.8 137.9 35.3 137.5 37.2C137.1 39.1 135.9 42.1 135.4 44.2C134.9 46.3 134.2 50.4 134 52.7C133.8 55 133.9 59 134 61.1C134.1 63.2 134.6 66.4 134.7 68.2C134.8 70 135 73.3 134.5 74.7C134 76.1 131.8 77.5 130.7 78.5C129.6 79.5 127.4 81.4 126.3 82.3C125.2 83.2 123.4 84.6 122.5 85.5C121.6 86.4 120.6 87.7 119.9 88.7C119.2 89.7 118.1 92 117.4 93.1C116.7 94.2 115.6 95.8 114.8 97C114 98.2 112.3 100.7 111.6 102C110.9 103.3 110.2 105.6 109.7 107.1C109.2 108.6 108.4 111.6 107.8 112.9C107.2 114.2 106.1 114.8 105.3 116.7C104.5 118.6 90.3 125.6 101.5 127C112.7 128.4 177.3 144.2 189 127C200.7 109.8 205.8 15.2 189 -2C172.2 -19.2 79.5 -2.9 62.8 -2Z" fill="#32C846" /><path d="M63.6 -2C47 -1.1 64.3 3.1 64.6 5C64.9 6.9 65.5 10.5 66 12C66.5 13.5 67.3 15.2 68 16C68.7 16.8 69.9 17.8 71 18.2C72.1 18.6 73.6 18.7 76 18.7C78.4 18.7 85.3 18.4 89 18.4C92.7 18.4 99.7 18.4 103.6 18.5C107.5 18.6 114.3 18.9 118 19.2C121.7 19.5 128.4 20 131.3 20.4C134.2 20.8 138.2 21.5 140 22C141.8 22.5 143.7 23.6 144.5 24.5C145.3 25.4 146.1 27.6 145.9 28.7C145.7 29.8 143.9 31.7 143.1 33C142.3 34.3 140.4 36.9 139.6 38.6C138.8 40.3 137.3 43.7 136.8 45.6C136.3 47.5 136.2 50.6 136.1 52.7C136 54.8 135.9 59 136.1 61.1C136.3 63.2 137.4 66.5 137.5 68.2C137.6 69.9 137.5 72.3 136.8 73.8C136.1 75.3 133.8 78.2 132.6 79.5C131.4 80.8 128.7 82.6 127.5 83.5C126.3 84.4 124.4 85.7 123.5 86.5C122.6 87.3 121.7 88.6 121 89.5C120.3 90.4 119.2 92.5 118.5 93.6C117.8 94.7 116.7 96.2 116 97.4C115.3 98.6 113.7 101.1 113 102.4C112.3 103.7 111.4 106 110.8 107.4C110.2 108.8 109.2 111.7 108.6 112.9C108 114.1 106.7 114.8 106 116.7C105.3 118.6 91.9 125.6 103 127C114.1 128.4 177.5 144.2 189 127C200.5 109.8 205.7 15.2 189 -2C172.3 -19.2 80.2 -2.9 63.6 -2Z" fill="#A0D70F" /><path d="M145.2 35.1C145.8 34.1 148.2 33 150.2 33C152.2 33 154.8 33.9 157.2 35.1C159.5 36.3 162.5 38.2 164.3 40C166.1 41.8 167.5 43.8 167.8 45.6C168.2 47.4 167.4 49.7 166.4 50.6C165.4 51.5 163.5 52.1 162.1 51.3C160.7 50.5 159.5 47.2 157.9 45.6C156.3 44 154.2 42.5 152.3 41.4C150.4 40.3 147.8 40.3 146.6 39.3C145.4 38.2 144.6 36.1 145.2 35.1Z" fill="#32C846" /><path d="M150.2 65.3C151.6 64.1 153.7 63.1 155.8 62.5C157.9 61.9 161.4 61.4 162.8 61.8C164.2 62.1 164.8 63.3 164.3 64.6C163.8 65.9 161.8 68.2 160 69.6C158.2 71 155.6 72.4 153.7 73.1C151.8 73.8 149.9 74.4 148.8 73.8C147.8 73.2 147.2 71 147.4 69.6C147.6 68.2 148.8 66.5 150.2 65.3Z" fill="#32C846" /><circle cx="142" cy="56" r="1.4" fill="#FFFF00"/><path d="M64.5 -2C48 -1.1 65.2 3.2 65.5 5C65.8 6.8 66.5 10.1 67 11.5C67.5 12.9 68.3 14.7 69 15.5C69.7 16.3 71.1 17.4 72 17.8C72.9 18.2 73.7 18.3 76 18.3C78.3 18.3 85.3 18 89 18C92.7 18 99.7 18.1 103.6 18.2C107.5 18.3 114.3 18.6 118 18.8C121.7 19 128.3 19.4 131.3 19.8C134.3 20.2 137.8 20.9 140.2 21.5C142.6 22.1 147.2 23.4 149.5 24.5C151.8 25.6 155.2 28.5 157.2 30.1C159.2 31.7 162.8 35.1 164.3 36.8C165.8 38.5 167.6 41 168.8 42.6C170 44.2 172.6 47 173 48.9C173.4 50.8 172.4 54.7 171.6 56.7C170.8 58.7 168.6 61.9 167.3 63.7C166 65.5 163.2 68.4 161.7 70C160.2 71.6 157.7 74.4 156.1 75.7C154.5 77 151.5 78.9 149.7 79.9C147.9 80.9 144.6 82.6 142.7 83.5C140.8 84.4 137.5 85.7 135.7 86.5C133.9 87.3 131 88.6 129.5 89.5C128 90.4 125.7 92 124.4 93.1C123.1 94.2 121.1 96.3 119.9 97.6C118.7 98.9 116.6 101.3 115.5 102.7C114.4 104.1 112.5 106.4 111.6 107.8C110.7 109.2 109.8 111.7 109.1 112.9C108.4 114.1 107.2 114.8 106.5 116.7C105.8 118.6 93 125.6 104 127C115 128.4 177.7 144.2 189 127C200.3 109.8 205.6 15.2 189 -2C172.4 -19.2 81 -2.9 64.5 -2Z" fill="#FFFF00" /><path d="M66 -2C49.7 -1.6 66.1 -0.1 66.5 0.9C66.9 1.9 68.2 3.9 68.7 5.2C69.2 6.5 69.7 9.7 70.2 11C70.7 12.3 71.6 14.1 72.4 14.7C73.2 15.3 73.8 15.4 76 15.4C78.2 15.4 85.4 14.8 89.1 14.7C92.8 14.6 99.7 14.6 103.6 14.7C107.5 14.8 114.9 14.8 118.2 15.1C121.5 15.4 125.5 16.5 128.4 16.9C131.3 17.3 137.4 17.8 140 18.3C142.6 18.8 145.7 19.7 148 20.5C150.3 21.3 155 23.1 157.2 24.5C159.4 25.9 162.5 29 164.3 30.8C166.1 32.6 169 35.9 170.6 37.9C172.2 39.9 175.3 44 176.2 45.6C177.1 47.2 177.6 47.9 177.4 49.6C177.2 51.3 175.5 55.8 174.4 58.1C173.3 60.4 170.9 64.4 169.5 66.5C168.1 68.6 165.3 71.8 163.8 73.6C162.3 75.4 159.7 78.2 158.2 79.9C156.7 81.6 154.1 84.6 152.6 86.2C151.1 87.8 148.5 90.7 146.9 92.1C145.3 93.5 142.6 95.5 140.9 96.8C139.2 98.1 136.2 100.4 134.5 101.8C132.8 103.2 129.9 105.8 128.2 107.3C126.5 108.8 123.3 111.6 121.8 112.9C120.3 114.2 117.8 114.8 116.7 116.7C115.6 118.6 103.9 125.6 113.5 127C123.1 128.4 178.9 144.2 189 127C199.1 109.8 205.4 15.2 189 -2C172.6 -19.2 82.3 -2.4 66 -2Z" fill="#FFA500" /><path d="M126.6 48.6C127 46.9 129.8 47.7 130.2 48.6C130.6 49.5 130.8 56.5 130.8 58C130.8 59.5 130.5 62.8 130.3 64C130.1 65.2 129.2 68.8 128.8 70C128.4 71.2 126.8 75.3 126.3 76.5C125.8 77.7 123.9 80.6 123.3 81.5C122.7 82.4 120.9 84.8 120.3 85.5C119.7 86.2 118 88.2 117.3 89C116.6 89.8 113.3 93.6 113 93.5C112.7 93.4 114 89.2 114.5 88C115 86.8 117.4 83.2 118 82C118.6 80.8 120.2 77.4 120.5 76C120.8 74.6 120.4 69 121 68C121.6 67 126 67.9 126.6 66C127.2 64.1 126.2 50.3 126.6 48.6Z" fill="#2878D2" /><path d="M-2 26.5C-1.7 29.3 0.2 26.2 0.9 25.6C1.6 25 3.8 21.7 4.7 20.7C5.6 19.7 9 16.7 10.2 15.8C11.4 14.9 15.4 12.2 16.7 11.4C18 10.6 21.9 8.3 23.2 7.6C24.5 6.9 28.5 4.9 29.8 4.3C31.1 3.7 35.3 1.7 36.3 1.3C37.3 0.9 39.1 0.5 39.6 0.2C40.1 -0.1 45.2 -1.8 41 -2C36.8 -2.2 2.3 -4.8 -2 -2C-6.3 0.8 -2.3 23.7 -2 26.5Z" fill="#2878D2" /><path d="M-2 23.8C-1.7 26.3 -0.1 23.5 0.6 22.9C1.3 22.3 3.7 18.8 4.7 17.9C5.7 17 9 14.4 10.2 13.6C11.4 12.8 15.4 10.3 16.7 9.5C18 8.7 21.9 6.7 23.2 6C24.5 5.3 28.6 3.3 29.8 2.7C31 2.1 34.5 0.7 35.2 0.2C35.9 -0.3 40.7 -1.8 37 -2C33.3 -2.2 1.9 -4.6 -2 -2C-5.9 0.6 -2.3 21.3 -2 23.8Z" fill="#14B4F5" /><path d="M-2 20C-1.8 22.1 -0.4 19.5 0.3 19C1 18.5 3.7 15.5 4.7 14.7C5.7 13.9 9 11.7 10.2 10.9C11.4 10.1 15.4 7.7 16.7 7C18 6.3 21.9 4.4 23.2 3.8C24.5 3.2 29 1.2 29.8 0.8C30.6 0.4 31.1 0.5 31.4 0.2C31.7 -0.1 36.3 -1.8 33 -2C29.7 -2.2 1.5 -4.2 -2 -2C-5.5 0.2 -2.2 17.9 -2 20Z" fill="#32C846" /><path d="M-2 14.6C-1.8 16.2 -0.7 14.5 0 14.1C0.7 13.7 3.6 11.3 4.7 10.6C5.8 9.9 9.9 7.7 11.2 7C12.5 6.3 16.5 4.7 17.8 4.1C19.1 3.5 23.3 1.7 24.3 1.3C25.3 0.9 27.1 0.5 27.6 0.2C28.1 -0.1 32 -1.8 29 -2C26 -2.2 1.1 -3.7 -2 -2C-5.1 -0.3 -2.2 13 -2 14.6Z" fill="#A0D70F" /><path d="M-2 11.4C-1.8 12.7 -0.7 11.3 0 10.9C0.7 10.5 3.6 8.3 4.7 7.6C5.8 6.9 9.9 4.9 11.2 4.3C12.5 3.7 16.6 2 17.8 1.6C19 1.2 22.5 0.6 23.2 0.2C23.9 -0.2 27.5 -1.8 25 -2C22.5 -2.2 0.7 -3.3 -2 -2C-4.7 -0.7 -2.2 10.1 -2 11.4Z" fill="#FFFF00" /><path d="M-2 93.3C-1.8 89.9 -1.2 93.2 0 93.3C1.2 93.3 7.8 93.8 9.8 93.8C11.8 93.8 17.8 93.6 19.6 93.3C21.4 93 26.2 91.4 27.8 90.9C29.4 90.4 34.5 88.8 36 88.4C37.5 88 41.5 87.3 42.6 87.3C43.8 87.3 46.5 88 47.5 88.4C48.5 88.8 51.4 90.3 52.4 90.9C53.4 91.5 56.4 93.4 57.3 94.1C58.2 94.8 60.8 97.3 61.4 98.2C62 99.1 62.7 102.1 63 103.1C63.3 104.1 64 107.1 64.6 108.1C65.2 109.1 67.6 112.1 68.7 113C69.8 113.9 74.1 116.4 75.3 117.1C76.5 117.8 79.5 118.5 80.2 119.5C80.9 120.5 90.2 126.2 82 127C73.8 127.8 6.4 130.4 -2 127C-10.4 123.6 -2.2 96.7 -2 93.3Z" fill="#2878D2" /><path d="M-2 94.5C-1.8 91.2 -1.2 94.5 0 94.5C1.2 94.5 7.8 95 9.8 95C11.8 95 17.8 94.8 19.6 94.5C21.4 94.2 26.2 92.7 27.8 92.2C29.4 91.8 34.6 90.3 36 90C37.4 89.7 40.6 88.9 41.7 88.9C42.8 88.9 45.7 89.6 46.6 90C47.5 90.4 49.9 91.9 50.7 92.5C51.5 93.1 54.1 95.1 54.8 95.8C55.5 96.5 57.6 99 58.1 99.9C58.6 100.8 59.4 103.8 59.7 104.8C60 105.8 60.9 108.8 61.4 109.7C61.9 110.6 63.7 113 64.6 113.8C65.5 114.6 69.2 116.8 70.4 117.4C71.6 118 76.1 119 76.9 120C77.7 121 85.9 126.3 78 127C70.1 127.7 6 130.2 -2 127C-10 123.8 -2.2 97.8 -2 94.5Z" fill="#14B4F5" /><path d="M-2 96.6C-1.8 93.6 -1.2 96.5 0 96.6C1.2 96.6 7.8 97.1 9.8 97.1C11.8 97 17.8 96.3 19.6 96.1C21.4 95.9 26.2 95.2 27.8 95C29.4 94.8 33.9 94.2 35.2 94.1C36.5 94 39.8 93.9 40.9 94.1C42 94.3 44.9 95.3 45.8 95.8C46.7 96.3 49.2 98.3 49.9 99C50.6 99.7 52 102.2 52.4 103.1C52.8 104 53.6 107.1 54 108.1C54.4 109.1 55.8 112.2 56.5 113C57.2 113.8 59.7 115.6 60.6 116.2C61.5 116.8 64.7 118.3 65.5 118.7C66.3 119.1 68.2 119.2 68.7 120C69.2 120.8 77.1 126.3 70 127C62.9 127.7 5.2 130 -2 127C-9.2 124 -2.2 99.6 -2 96.6Z" fill="#32C846" /><path d="M-2 100.7C-1.8 98.1 -1 100.7 0 100.7C1 100.7 6.4 100.6 8.2 100.4C10 100.2 16 99.3 18 99C20 98.7 26 97.9 27.8 97.7C29.6 97.5 34.7 97.3 36 97.4C37.3 97.5 40 98.5 40.9 99C41.8 99.5 44.3 101.5 45 102.3C45.7 103.1 47.1 106.2 47.5 107.2C47.9 108.2 48.6 111.2 49.1 112.1C49.6 113 51.6 115.4 52.4 116.2C53.2 117 56.7 118.9 57.3 120C57.9 121.1 63.9 126.3 58 127C52.1 127.7 4 129.6 -2 127C-8 124.4 -2.2 103.3 -2 100.7Z" fill="#A0D70F" /><path d="M-2 111.3C-1.8 109.7 -0.8 111.5 0 111.3C0.8 111.1 5 109.9 6.5 109.7C8 109.5 13.1 109.3 14.7 109.2C16.3 109.1 21.4 108.8 22.9 108.9C24.4 109 28.4 110 29.5 110.5C30.6 111 32.9 113.1 33.6 113.8C34.3 114.5 36.3 116.8 36.8 117.4C37.3 118 38.3 119 38.5 120C38.7 121 43 126.3 39 127C35 127.7 2.1 128.6 -2 127C-6.1 125.4 -2.2 112.9 -2 111.3Z" fill="#FFFF00" /><path d="M21.5 61.5C21.8 60.1 24.9 56 26.4 54.1C27.9 52.2 31.3 48.9 32.9 47.6C34.5 46.3 36.6 44.5 38.6 44C40.6 43.5 45.5 43.4 47.6 43.5C49.7 43.6 52.7 44.6 54.2 45.1C55.7 45.6 57.6 47.2 59.1 47.4C60.6 47.6 63.7 47.3 65.6 46.8C67.5 46.3 71.3 44.2 73 43.5C74.7 42.8 77 41.9 78.7 41.5C80.4 41.1 85.1 37.5 86.1 40.8C87.1 44.1 87.2 63.1 86.1 66.5C85 69.9 79.8 66.3 77.9 66.4C76 66.5 73.4 66.8 72.2 67.2C71 67.6 69.8 68.8 68.9 69.7C68 70.6 66.9 72.9 65.6 73.8C64.3 74.7 61.1 75.9 59.1 76.2C57.1 76.5 53.1 76.4 50.9 76.2C48.7 76 44.7 75.3 42.7 74.6C40.7 73.9 37.9 72.2 36.2 71.3C34.5 70.4 31.2 68.9 29.6 68C28 67.1 25 65.7 23.9 64.8C22.8 63.9 21.2 62.9 21.5 61.5Z" fill="#14B4F5" stroke="#2878D2" stroke-width="1.2" stroke-linejoin="round"/><path d="M23.9 61.5C24.2 60.3 27.1 56.6 28.5 55C29.9 53.4 33 50.7 34.5 49.5C36 48.3 37.8 46.8 39.5 46.3C41.2 45.8 45.6 45.6 47.6 45.8C49.6 46 52.7 47 54.2 47.5C55.7 48 57.6 49.4 59.1 49.5C60.6 49.6 63.7 49.1 65.6 48.6C67.5 48.1 71.3 46.1 73 45.4C74.7 44.7 77 43.7 78.7 43.4C80.4 43.1 85.1 40.1 86.1 42.8C87.1 45.5 87.2 61.2 86.1 64C85 66.8 79.8 63.9 77.9 64C76 64.1 73.7 64 72.2 64.5C70.7 65 68.1 66.5 67 67.5C65.9 68.5 65.1 71.1 64 72C62.9 72.9 60.8 73.7 59.1 74C57.4 74.3 53 74.4 50.9 74.2C48.8 74 45.3 73.2 43.5 72.6C41.7 72 38.8 70.4 37.2 69.6C35.6 68.8 32.6 67.2 31.2 66.4C29.8 65.6 27.4 64.5 26.4 63.8C25.4 63.1 23.6 62.7 23.9 61.5Z" fill="#32C846" /><path d="M25.5 61.5C25.5 60.2 29.8 57.2 31.3 55.8C32.8 54.4 35.5 52 37 50.9C38.5 49.8 41.1 47.8 42.7 47.3C44.3 46.8 47.8 46.6 49.3 46.8C50.8 47 52.9 48.2 54.2 48.7C55.5 49.2 57.8 50.4 59.1 50.9C60.4 51.4 63 51.6 64 52.5C65 53.4 66.2 55.9 66.5 57.4C66.8 58.9 66.8 62.4 66.5 64C66.2 65.6 65 68.5 64 69.7C63 70.9 60.8 72.5 59.1 73C57.4 73.5 52.9 73.9 50.9 73.8C48.9 73.7 46.1 72.7 44.4 72.1C42.7 71.5 39.5 70 37.8 69.2C36.1 68.4 32.9 66.9 31.3 65.9C29.7 64.9 25.5 62.8 25.5 61.5Z" fill="#A0D70F" /><ellipse cx="77.5" cy="56.5" rx="7.5" ry="5.2" fill="#A0D70F"/><path d="M41.5 57.3C43.9 57.1 55.3 57.3 58 57.6C60.7 57.9 61 59.1 61.6 59.8C62.2 60.5 62.6 62.2 62.4 63C62.2 63.8 61.3 65.5 60.2 66C59.1 66.5 56.3 66.4 54.2 66.5C52.1 66.6 46.3 66.7 44.4 66.5C42.5 66.3 41 65.6 40.3 65C39.6 64.4 39.3 63.1 39.2 62.3C39.1 61.5 39.5 59.7 39.8 59C40.1 58.3 39.1 57.5 41.5 57.3Z" fill="#FFFF00" /><circle cx="59.3" cy="60" r="1.3" fill="#FF00AA"/><rect x="90.7" y="44.2" width="31.5" height="16.5" fill="#32C846"/><rect x="90.7" y="44.2" width="6" height="16.5" fill="#A0D70F"/><rect x="99" y="44.2" width="4.5" height="16.5" fill="#14B4F5"/><rect x="105" y="44.2" width="3.2" height="16.5" fill="#14B4F5"/><rect x="112.5" y="44.2" width="8" height="16.5" fill="#A0D70F"/><path d="M80 52.6H92" stroke="#e8e070" stroke-width="0.6"/><g transform="scale(0.9956 1.0008)"><use href="#veg"/><use href="#bld"/></g></g></g><path d="M-0.6 0V120.8H180.2" stroke="#b4bfcc" stroke-width="1" fill="none"/><path d="M-2.8 120.3H-1.2M-2.8 108.3H-1.2M-2.8 96.2H-1.2M-2.8 84.2H-1.2M-2.8 72.2H-1.2M-2.8 60.1H-1.2M-2.8 48.1H-1.2M-2.8 36.1H-1.2M-2.8 24.1H-1.2M-2.8 12H-1.2M-2.8 0H-1.2M0 121.1V122.7M12 121.1V122.7M24 121.1V122.7M36 121.1V122.7M48.1 121.1V122.7M60.1 121.1V122.7M72.1 121.1V122.7M84.1 121.1V122.7M96.1 121.1V122.7M108.1 121.1V122.7M120.1 121.1V122.7M132.1 121.1V122.7M144.2 121.1V122.7M156.2 121.1V122.7M168.2 121.1V122.7M180.2 121.1V122.7" stroke="#333" stroke-width="0.7" fill="none"/><g class="tk" text-anchor="end"><text x="-3.4" y="121.5">0.00</text><text x="-3.4" y="109.5">30.00</text><text x="-3.4" y="97.4">60.00</text><text x="-3.4" y="85.4">90.00</text><text x="-3.4" y="73.4">120.00</text><text x="-3.4" y="61.4">150.00</text><text x="-3.4" y="49.3">180.00</text><text x="-3.4" y="37.3">210.00</text><text x="-3.4" y="25.3">240.00</text><text x="-3.4" y="13.2">270.00</text><text x="-3.4" y="1.2">300.00</text></g><g class="tk" text-anchor="middle"><text x="0" y="127.5">0.00</text><text x="12" y="127.5">30.00</text><text x="24" y="127.5">60.00</text><text x="36" y="127.5">90.00</text><text x="48.1" y="127.5">120.00</text><text x="60.1" y="127.5">150.00</text><text x="72.1" y="127.5">180.00</text><text x="84.1" y="127.5">210.00</text><text x="96.1" y="127.5">240.00</text><text x="108.1" y="127.5">270.00</text><text x="120.1" y="127.5">300.00</text><text x="132.1" y="127.5">330.00</text><text x="144.2" y="127.5">360.00</text><text x="156.2" y="127.5">390.00</text><text x="168.2" y="127.5">420.00</text><text x="180.2" y="127.5">450.00</text></g><text class="ax" text-anchor="middle" x="90.1" y="134.1">X (m)</text><text class="ax" text-anchor="middle" transform="translate(-19.3 60.1) rotate(-90)">Y (m)</text><text class="lt" x="183.4" y="6" textLength="70" lengthAdjust="spacingAndGlyphs" style="font-size:5.08px">absolute difference Potential</text><text class="lt" x="183.4" y="11.4" textLength="39.2" lengthAdjust="spacingAndGlyphs" style="font-size:5.08px">Air Temperature</text><rect x="183.7" y="17.2" width="14.2" height="5.3" fill="#0F5F96" stroke="#76828f" stroke-width="0.5"/><text class="ll" x="204" y="21.4" style="font-size:4.98px">below -0.07 K</text><rect x="183.7" y="24.6" width="14.2" height="5.3" fill="#2878D2" stroke="#76828f" stroke-width="0.5"/><text class="ll" x="204" y="28.8" style="font-size:4.98px">-0.07 to -0.06 K</text><rect x="183.7" y="32" width="14.2" height="5.3" fill="#14B4F5" stroke="#76828f" stroke-width="0.5"/><text class="ll" x="204" y="36.2" style="font-size:4.98px">-0.06 to -0.05 K</text><rect x="183.7" y="39.4" width="14.2" height="5.3" fill="#32C846" stroke="#76828f" stroke-width="0.5"/><text class="ll" x="204" y="43.5" style="font-size:4.98px">-0.05 to -0.04 K</text><rect x="183.7" y="46.8" width="14.2" height="5.3" fill="#A0D70F" stroke="#76828f" stroke-width="0.5"/><text class="ll" x="204" y="50.9" style="font-size:4.98px">-0.04 to -0.03 K</text><rect x="183.7" y="54.1" width="14.2" height="5.3" fill="#FFFF00" stroke="#76828f" stroke-width="0.5"/><text class="ll" x="204" y="58.3" style="font-size:4.98px">-0.03 to -0.02 K</text><rect x="183.7" y="61.5" width="14.2" height="5.3" fill="#FFA500" stroke="#76828f" stroke-width="0.5"/><text class="ll" x="204" y="65.7" style="font-size:4.98px">-0.02 to -0.01 K</text><rect x="183.7" y="68.9" width="14.2" height="5.3" fill="#FF0000" stroke="#76828f" stroke-width="0.5"/><text class="ll" x="204" y="73" style="font-size:4.98px">-0.01 to 0.00 K</text><rect x="183.7" y="76.3" width="14.2" height="5.3" fill="#FF00AA" stroke="#76828f" stroke-width="0.5"/><text class="ll" x="204" y="80.4" style="font-size:4.98px">0.00 to 0.01 K</text><rect x="183.7" y="83.7" width="14.2" height="5.3" fill="#FF3CFF" stroke="#76828f" stroke-width="0.5"/><text class="ll" x="204" y="87.8" style="font-size:4.98px">above 0.01 K</text><text class="ll" x="183.4" y="100.1" style="font-size:4.98px">Min: -0.40 K</text><text class="ll" x="183.4" y="105.4" style="font-size:4.98px">Max: 0.11 K</text><circle cx="213.9" cy="119.9" r="8" fill="#c3c3c3"/><path d="M210.2 109.2L220.5 127.5L215.6 124.7L213 130.3Z" fill="#000"/><circle cx="213.9" cy="121.9" r="1" fill="#e8e8e8"/></g><text class="cap" text-anchor="middle" x="117.4" y="319.3">Cool pavement scenario</text>
<g transform="translate(295.1 171.5)"><g clip-path="url(#mcp4)"><g filter="url(#bl)"><rect x="-5" y="-5" width="198" height="136" fill="#FFA500"/><path d="M-2 24C-1.7 11.7 -1.1 24.7 0 24C1.1 23.3 4.5 20.3 6.5 19.1C8.5 17.9 12.3 15.9 14.7 15C17.1 14.1 21.7 13 24.5 12.6C27.3 12.2 33.4 11.7 36 11.8C38.6 11.9 41.6 12.9 44.2 13.4C46.8 13.9 52.8 15.5 55.6 15.9C58.4 16.3 62.7 16.6 65.5 16.7C68.3 16.8 74.1 16.8 76.9 16.7C79.7 16.6 83.6 15.9 86.5 15.9C89.4 15.9 95.6 16.4 98.5 16.9C101.4 17.4 106.1 19.3 108.2 20C110.3 20.7 112.4 21.7 114 22.5C115.6 23.3 118.9 24.9 120.4 26C121.9 27.1 124.2 30.1 125.5 31C126.8 31.9 129 32.5 130.1 32.4C131.2 32.3 132.9 31 134 30.5C135.1 30 137.1 28.4 138 28.4C138.9 28.4 140 29.5 140.6 30.6C141.2 31.7 141.6 35.1 142.2 36.6C142.8 38.1 143.9 40.9 145.2 41.6C146.5 42.3 150.2 41.5 152.2 41.6C154.2 41.7 158.3 41.9 160.3 42.6C162.3 43.3 166 45.4 167.3 46.7C168.6 48 169.8 51.1 169.9 52.7C170 54.3 169.2 57.1 168.3 58.7C167.4 60.3 165 63.5 163.3 64.8C161.6 66.1 157.3 67.7 155.3 68.8C153.3 69.9 149.9 71.6 148.2 72.8C146.5 74 143.8 76.5 142.2 77.8C140.6 79.1 137.6 81.6 136.1 82.9C134.6 84.2 132.3 86.4 131.1 87.9C129.9 89.4 128.3 92.3 127.1 93.9C125.9 95.5 123.4 98.4 122.1 100C120.8 101.6 118.3 104.5 117 106C115.7 107.5 113.3 109.8 112 111C110.7 112.2 108.5 113 107.5 115.1C106.5 117.2 116.6 125.4 104.2 127C91.8 128.6 27.1 128.3 14.7 127C2.3 125.7 12.6 118.9 11.5 117.4C10.4 115.9 8 115.9 6.5 115.8C5 115.7 1.1 116.5 0 116.6C-1.1 116.7 -1.7 128.9 -2 116.6C-2.3 104.3 -2.3 36.3 -2 24Z" fill="#FFFF00" /><path d="M-2 30.5C-1.7 20 -0.8 30.8 0 30C0.8 29.2 2.8 26.1 4.1 24.8C5.4 23.5 7.9 21.6 9.8 20.6C11.7 19.6 15.6 17.9 18 17.2C20.4 16.5 25.2 15.4 27.8 15C30.4 14.6 35.4 14.1 37.6 14.2C39.8 14.3 41.8 15.4 44.2 15.9C46.6 16.4 52.8 17.5 55.6 17.8C58.4 18.1 62.7 18.2 65.5 18.3C68.3 18.4 74.1 18.5 76.9 18.5C79.7 18.5 83.8 18.2 86.5 18.3C89.2 18.4 94.8 18.5 97.4 19C100 19.5 103.9 21.3 105.8 22.4C107.7 23.5 110.5 25.9 111.8 27.2C113.1 28.5 114.4 30.8 115.4 32C116.4 33.2 118.5 34.1 119 36.5C119.5 38.9 119.4 47.4 119 50C118.6 52.6 116.5 54.1 116 56C115.5 57.9 113.9 62.6 115 64C116.1 65.4 122.5 66.7 124 66.5C125.5 66.3 125 62.9 126.1 62.8C127.2 62.7 130.5 65 132.1 65.8C133.7 66.6 136.5 68.9 138.2 68.8C139.9 68.7 143.5 66 145.2 64.8C146.9 63.6 149.5 60.2 151.2 59.7C152.9 59.2 156.2 61 158 61C159.8 61 164.3 59.1 165 59.5C165.7 59.9 164.7 62.9 163 64C161.3 65.1 154.4 66.7 152.2 67.8C150 68.9 148.1 71 146.2 72.2C144.3 73.4 140.2 76.1 138.2 76.8C136.2 77.5 132.4 77.6 131.1 77.8C129.8 78 129.4 77.7 128.7 78.5C128 79.3 126.5 82.2 125.5 84C124.5 85.8 122.6 90.1 121.4 92.2C120.2 94.3 117.8 97.7 116.5 99.6C115.2 101.5 112.9 104.5 111.6 106.1C110.3 107.7 108 110.5 106.6 111.9C105.2 113.3 102.8 114.8 100.9 116.8C99 118.8 99.2 125.6 92.7 127C86.2 128.4 58.2 128.4 52.4 127C46.6 125.6 50.1 118.5 49.1 116.6C48.1 114.7 46.3 113.6 45 112.5C43.7 111.4 40.9 109.3 39.3 108.4C37.7 107.5 34.7 106.4 32.7 106C30.7 105.6 26.7 105.1 24.5 105.1C22.3 105.1 18.6 105.7 16.4 106C14.2 106.3 10.4 107.3 8.2 107.6C6 107.9 1.4 108.3 0 108.4C-1.4 108.5 -1.7 118.8 -2 108.4C-2.3 98 -2.3 41 -2 30.5Z" fill="#A0D70F" /><ellipse cx="29.5" cy="102.7" rx="3.3" ry="1.6" fill="#FFFF00"/><path d="M160 47C160.7 45.1 162.8 46 164 46.5C165.2 47 166.8 48.4 167.3 50C167.8 51.6 167.6 54.2 167 56C166.4 57.8 164.9 59.5 163.5 60.5C162.1 61.5 159.1 62.4 158.5 62C157.9 61.6 159.8 60.5 160 58C160.2 55.5 159.3 48.9 160 47Z" fill="#32C846" /><path d="M161.5 50C161.9 48.5 163.6 49 164.3 49.5C165 50 165.6 51.7 165.6 53C165.6 54.3 165.1 56.6 164.5 57.5C163.9 58.4 162.5 59.8 162 58.5C161.5 57.2 161.1 51.5 161.5 50Z" fill="#14B4F5" /><path d="M-2 62C-1.7 57 -0.8 62.5 0 62C0.8 61.5 3.1 59.6 4 58.5C4.9 57.4 6.2 55.3 6.5 54C6.8 52.7 6.4 50.6 6.5 48.6C6.6 46.6 6.9 41.2 7.4 38.8C7.9 36.4 9.5 32.6 10.6 30.6C11.7 28.6 13.9 25.4 15.5 24C17.1 22.6 20.8 20.9 22.9 20C25 19.1 28.9 17.7 31.1 17.2C33.3 16.7 37.6 16 39.3 15.9C41 15.8 42 16.4 44.2 16.8C46.4 17.2 52.8 18.3 55.6 18.6C58.4 18.9 62.7 18.9 65.5 19C68.3 19.1 74.1 19.2 76.9 19.2C79.7 19.2 83.8 18.9 86.5 19C89.2 19.1 94.5 19.3 97 19.8C99.5 20.3 103.1 21.9 105 23C106.9 24.1 109.7 26.5 111 27.8C112.3 29.1 113.7 31.3 114.6 32.5C115.5 33.7 117.5 35.3 118 36.8C118.5 38.3 118.7 42.2 118 44C117.3 45.8 113.8 47.6 113 50C112.2 52.4 110.7 59.9 112 62C113.3 64.1 121 64.1 122.5 66C124 67.9 123.2 73.5 123.2 75.9C123.2 78.3 122.9 82 122.4 84C121.9 86 120.7 89.2 119.8 91C118.9 92.8 116.7 96.1 115.7 97.7C114.7 99.3 113.3 101.5 112.4 102.8C111.5 104.1 109.9 106.6 109.2 107.8C108.5 109 108.2 110.4 107 111.5C105.8 112.6 102 114.9 100 116C98 117.1 94.9 119 92 119.5C89.1 120 81.5 119.8 78.6 119.5C75.7 119.2 72.4 118 70.4 117.4C68.4 116.8 65.2 115.9 63.8 115C62.4 114.1 60.7 112.2 59.7 110.9C58.7 109.6 57.5 106.5 56.5 105.1C55.5 103.7 53.6 101.4 52.4 100.2C51.2 99 49 96.9 47.5 96.1C46 95.3 42.6 94.2 40.9 94C39.2 93.8 36.4 94.3 34.4 94.5C32.4 94.7 28.4 95 26.2 95.3C24 95.6 20.2 96.6 18 97C15.8 97.4 12.2 98.3 9.8 98.6C7.4 98.9 1.6 99.3 0 99.4C-1.6 99.5 -1.7 104.4 -2 99.4C-2.3 94.4 -2.3 67 -2 62Z" fill="#32C846" /><path d="M60 19.5C58.3 18.7 50.3 18.9 47.5 18.8C44.7 18.7 41.5 18.5 39.3 18.8C37.1 19.1 33.2 20.1 31.1 20.8C29 21.5 25.4 22.9 23.7 24C22 25.1 19.2 27.6 18 29C16.8 30.4 15.4 33 14.7 34.7C14 36.4 13.1 39.9 12.8 42C12.5 44.1 12.5 48.3 12.3 50.2C12.1 52.1 12.2 54.5 11.5 56C10.8 57.5 8.5 60.2 7 61.5C5.5 62.8 1.2 65.4 0 66C-1.2 66.6 -1.7 65.2 -2 66C-2.3 66.8 -3.6 71.5 -2 72C-0.4 72.5 6.8 71.3 10 70C13.2 68.7 20.1 65.3 22 62C23.9 58.7 22.9 49.3 24 45C25.1 40.7 25.2 32.7 30 30C34.8 27.3 56 26.4 60 25C64 23.6 61.7 20.3 60 19.5Z" fill="#14B4F5" /><path d="M-2 94.5C-1.7 95.4 -1.4 94.3 0 94.5C1.4 94.7 6 95.9 8.2 96.1C10.4 96.3 14.2 96 16.4 95.7C18.6 95.4 22.3 94.5 24.5 94C26.7 93.5 30.7 92.3 32.7 91.7C34.7 91.1 37.6 89.9 39.3 89.6C41 89.3 43.9 88.9 45.5 89.1C47.1 89.3 49.6 90.5 51.1 91.1C52.6 91.7 55.3 92.8 56.6 93.5C57.9 94.2 60 95.7 61 96.6C62 97.5 63.2 98.9 63.8 99.9C64.4 100.9 65.1 103.2 65.5 104.4C65.9 105.6 66 107.9 66.6 108.8C67.2 109.7 68.6 110.6 69.9 111C71.2 111.4 74.9 111.8 76.5 112.1C78.1 112.4 79.6 113 82.1 113.2C84.6 113.4 91.7 113.4 95 113.3C98.3 113.2 105.3 113.2 107 112.2C108.7 111.2 110.3 107.6 108 106C105.7 104.4 96.4 102.9 90 100C83.6 97.1 68 86.1 60 84C52 81.9 38.3 83.5 30 84C21.7 84.5 2.3 86.6 -2 88C-6.3 89.4 -2.3 93.6 -2 94.5Z" fill="#14B4F5" /><path d="M60 21.8C56.9 21.6 51.9 20.8 49.1 20.8C46.3 20.8 41.6 21.2 39.3 21.6C37 22 33.9 22.9 31.9 23.7C29.9 24.5 26.1 26.2 24.5 27.3C22.9 28.4 20.6 30.7 19.6 32.2C18.6 33.7 17.6 37.1 17.2 38.8C16.8 40.5 16.5 43.6 16.4 45.3C16.3 47 16.5 50.2 16.4 51.9C16.3 53.6 16.1 56.5 15.5 58C14.9 59.5 13.3 61.9 12 63C10.7 64.1 7.6 65.8 6 66.5C4.4 67.2 1.1 68.2 0 68.5C-1.1 68.8 -1.7 65.5 -2 68.5C-2.3 71.5 -2.3 88.2 -2 91.2C-1.7 94.2 -1.4 91 0 91.2C1.4 91.4 6 92.3 8.2 92.4C10.4 92.5 14.2 92.4 16.4 92.1C18.6 91.8 22.3 90.9 24.5 90.4C26.7 89.9 30.7 88.6 32.7 88C34.7 87.4 37.4 86 39.3 85.8C41.2 85.6 44.7 86.3 46.6 86.6C48.5 86.9 51.5 87.6 53.3 87.8C55.1 88 58.1 88.2 59.9 88.3C61.7 88.4 65 88 66.6 88.3C68.2 88.6 70.9 89.8 72.1 90.5C73.3 91.2 74.5 92.5 75.4 93.3C76.3 94.1 78.2 95.3 78.8 96.6C79.4 97.9 80 101.6 80 103C80 104.4 78.7 106.3 79 107C79.3 107.7 80.5 108.2 82 108.5C83.5 108.8 87.6 109.4 90 109.5C92.4 109.6 97.9 109.4 100 109.5C102.1 109.6 104.8 110.5 105.8 110.2C106.8 109.9 106.8 108.1 107.5 107C108.2 105.9 109.8 103.4 110.7 102.1C111.6 100.8 113 98.6 114 97.1C115 95.6 117.2 92.3 118.1 90.6C119 88.9 120.2 86 120.6 84C121 82 121.4 78.3 121.4 75.9C121.4 73.5 122.4 67.3 120.6 66C118.8 64.7 109.9 68.7 108.2 65.8C106.5 62.9 107.1 47.5 108.2 44C109.3 40.5 115.5 40.7 116.6 39.3C117.7 37.9 117.3 34.9 116.8 33.5C116.3 32.1 114.3 29.6 113 28.5C111.7 27.4 108.9 25.9 107 25.2C105.1 24.5 101.2 23.8 98.5 23.4C95.8 23 90 22.5 86.5 22.4C83 22.3 75.5 22.5 72 22.4C68.5 22.3 63.1 22 60 21.8Z" fill="none" stroke="#14B4F5" stroke-width="3.0" stroke-linejoin="round"/><path d="M60 21.8C56.9 21.6 51.9 20.8 49.1 20.8C46.3 20.8 41.6 21.2 39.3 21.6C37 22 33.9 22.9 31.9 23.7C29.9 24.5 26.1 26.2 24.5 27.3C22.9 28.4 20.6 30.7 19.6 32.2C18.6 33.7 17.6 37.1 17.2 38.8C16.8 40.5 16.5 43.6 16.4 45.3C16.3 47 16.5 50.2 16.4 51.9C16.3 53.6 16.1 56.5 15.5 58C14.9 59.5 13.3 61.9 12 63C10.7 64.1 7.6 65.8 6 66.5C4.4 67.2 1.1 68.2 0 68.5C-1.1 68.8 -1.7 65.5 -2 68.5C-2.3 71.5 -2.3 88.2 -2 91.2C-1.7 94.2 -1.4 91 0 91.2C1.4 91.4 6 92.3 8.2 92.4C10.4 92.5 14.2 92.4 16.4 92.1C18.6 91.8 22.3 90.9 24.5 90.4C26.7 89.9 30.7 88.6 32.7 88C34.7 87.4 37.4 86 39.3 85.8C41.2 85.6 44.7 86.3 46.6 86.6C48.5 86.9 51.5 87.6 53.3 87.8C55.1 88 58.1 88.2 59.9 88.3C61.7 88.4 65 88 66.6 88.3C68.2 88.6 70.9 89.8 72.1 90.5C73.3 91.2 74.5 92.5 75.4 93.3C76.3 94.1 78.2 95.3 78.8 96.6C79.4 97.9 80 101.6 80 103C80 104.4 78.7 106.3 79 107C79.3 107.7 80.5 108.2 82 108.5C83.5 108.8 87.6 109.4 90 109.5C92.4 109.6 97.9 109.4 100 109.5C102.1 109.6 104.8 110.5 105.8 110.2C106.8 109.9 106.8 108.1 107.5 107C108.2 105.9 109.8 103.4 110.7 102.1C111.6 100.8 113 98.6 114 97.1C115 95.6 117.2 92.3 118.1 90.6C119 88.9 120.2 86 120.6 84C121 82 121.4 78.3 121.4 75.9C121.4 73.5 122.4 67.3 120.6 66C118.8 64.7 109.9 68.7 108.2 65.8C106.5 62.9 107.1 47.5 108.2 44C109.3 40.5 115.5 40.7 116.6 39.3C117.7 37.9 117.3 34.9 116.8 33.5C116.3 32.1 114.3 29.6 113 28.5C111.7 27.4 108.9 25.9 107 25.2C105.1 24.5 101.2 23.8 98.5 23.4C95.8 23 90 22.5 86.5 22.4C83 22.3 75.5 22.5 72 22.4C68.5 22.3 63.1 22 60 21.8Z" fill="none" stroke="#2878D2" stroke-width="1.2" stroke-linejoin="round"/><path d="M60 21.8C56.9 21.6 51.9 20.8 49.1 20.8C46.3 20.8 41.6 21.2 39.3 21.6C37 22 33.9 22.9 31.9 23.7C29.9 24.5 26.1 26.2 24.5 27.3C22.9 28.4 20.6 30.7 19.6 32.2C18.6 33.7 17.6 37.1 17.2 38.8C16.8 40.5 16.5 43.6 16.4 45.3C16.3 47 16.5 50.2 16.4 51.9C16.3 53.6 16.1 56.5 15.5 58C14.9 59.5 13.3 61.9 12 63C10.7 64.1 7.6 65.8 6 66.5C4.4 67.2 1.1 68.2 0 68.5C-1.1 68.8 -1.7 65.5 -2 68.5C-2.3 71.5 -2.3 88.2 -2 91.2C-1.7 94.2 -1.4 91 0 91.2C1.4 91.4 6 92.3 8.2 92.4C10.4 92.5 14.2 92.4 16.4 92.1C18.6 91.8 22.3 90.9 24.5 90.4C26.7 89.9 30.7 88.6 32.7 88C34.7 87.4 37.4 86 39.3 85.8C41.2 85.6 44.7 86.3 46.6 86.6C48.5 86.9 51.5 87.6 53.3 87.8C55.1 88 58.1 88.2 59.9 88.3C61.7 88.4 65 88 66.6 88.3C68.2 88.6 70.9 89.8 72.1 90.5C73.3 91.2 74.5 92.5 75.4 93.3C76.3 94.1 78.2 95.3 78.8 96.6C79.4 97.9 80 101.6 80 103C80 104.4 78.7 106.3 79 107C79.3 107.7 80.5 108.2 82 108.5C83.5 108.8 87.6 109.4 90 109.5C92.4 109.6 97.9 109.4 100 109.5C102.1 109.6 104.8 110.5 105.8 110.2C106.8 109.9 106.8 108.1 107.5 107C108.2 105.9 109.8 103.4 110.7 102.1C111.6 100.8 113 98.6 114 97.1C115 95.6 117.2 92.3 118.1 90.6C119 88.9 120.2 86 120.6 84C121 82 121.4 78.3 121.4 75.9C121.4 73.5 122.4 67.3 120.6 66C118.8 64.7 109.9 68.7 108.2 65.8C106.5 62.9 107.1 47.5 108.2 44C109.3 40.5 115.5 40.7 116.6 39.3C117.7 37.9 117.3 34.9 116.8 33.5C116.3 32.1 114.3 29.6 113 28.5C111.7 27.4 108.9 25.9 107 25.2C105.1 24.5 101.2 23.8 98.5 23.4C95.8 23 90 22.5 86.5 22.4C83 22.3 75.5 22.5 72 22.4C68.5 22.3 63.1 22 60 21.8Z" fill="#0F5F96"/><path d="M19 42C18.5 40.3 18.7 35.4 19.5 33C20.3 30.6 22.1 29 24 27.5C25.9 26 29.5 24.3 31 24.2C32.5 24.1 33.7 25.9 33 27C32.3 28.1 28.5 29.2 27 31C25.5 32.8 24.8 36 24 38C23.2 40 23.3 42.3 22.5 43C21.7 43.7 19.5 43.7 19 42Z" fill="#2878D2" /><path d="M72.5 90.5L77 98L80.5 110" stroke="#2878D2" stroke-width="2.2" fill="none"/><path d="M78.5 86.5 L81 86.5 L81 99 L79.8 99Z" fill="#14B4F5" /><path d="M12.6 44.5C13.9 43.5 19.8 45.4 22.1 45.3C24.4 45.2 27.2 43.8 29.5 43.7C31.8 43.6 36.9 44.3 39.3 44.5C41.7 44.7 45.5 44.9 47.5 45.3C49.5 45.7 52.5 47.4 54 47.8C55.5 48.2 56.9 48.7 58.9 48.6C60.9 48.5 66.3 47.5 68.7 47C71.1 46.5 74.6 45.1 76.9 44.5C79.2 43.9 84.8 39.5 86 42.4C87.2 45.3 87.2 62.9 86 66C84.8 69.1 78.8 65.9 76.9 65.9C75 65.9 73.3 65.6 72 65.9C70.7 66.2 68.2 67.4 67.1 68.3C66 69.2 65.1 71.4 63.8 72.4C62.5 73.4 59.3 75.2 57.3 75.7C55.3 76.2 51.3 76.6 49.1 76.5C46.9 76.4 43.1 75.6 40.9 74.9C38.7 74.2 34.7 72.6 32.7 71.6C30.7 70.6 27.8 68.5 26.2 67.5C24.6 66.5 22.1 64.9 20.5 64.2C18.9 63.5 15.1 64 14 62.5C12.9 61 12.2 55.4 12 53C11.8 50.6 11.3 45.5 12.6 44.5Z" fill="#14B4F5" /><path d="M21 49C21.5 48.3 22.9 47.9 24 47.5C25.1 47.1 27.5 45.9 29.5 45.8C31.5 45.7 36.9 46.3 39.3 46.5C41.7 46.7 45.5 46.9 47.5 47.3C49.5 47.7 52.5 49.4 54 49.8C55.5 50.2 56.9 50.7 58.9 50.6C60.9 50.5 66.3 49.5 68.7 49C71.1 48.5 74.6 47.1 76.9 46.5C79.2 45.9 84.8 42.2 86 44.5C87.2 46.8 87.2 61.4 86 64C84.8 66.6 78.8 63.9 76.9 63.9C75 63.9 73 63.7 71.5 64C70 64.3 67.2 65.6 66 66.5C64.8 67.4 63.7 69.6 62.5 70.5C61.3 71.4 58.8 73.1 57 73.6C55.2 74.1 51.2 74.5 49.1 74.4C47 74.3 43 73.4 40.9 72.8C38.8 72.2 35.1 70.5 33.2 69.6C31.3 68.7 28.5 66.6 27 65.7C25.5 64.8 22.9 63.5 22 62.5C21.1 61.5 20.3 59.3 20 58C19.7 56.7 19.9 54.2 20 53C20.1 51.8 20.5 49.7 21 49Z" fill="#32C846" /><path d="M24 55C24.5 53.7 26.4 51.4 28 50.5C29.6 49.6 33.5 48.6 36 48.5C38.5 48.4 44.6 49.1 47 49.5C49.4 49.9 52.3 51.1 54 51.5C55.7 51.9 58.1 52.5 60 52.5C61.9 52.5 65.9 51.8 68 51.5C70.1 51.2 73.9 50.6 76 50.5C78.1 50.4 82.7 50.9 84 51C85.3 51.1 85.7 49.7 86 51C86.3 52.3 86.8 59.6 86 61C85.2 62.4 81.9 61.4 80 61.5C78.1 61.6 73.9 61.6 72 62C70.1 62.4 67.3 63.6 66 64.5C64.7 65.4 63.3 67.6 62 68.5C60.7 69.4 57.7 71 56 71.5C54.3 72 51 72.4 49 72.3C47 72.2 43 71.4 41 70.8C39 70.2 35.7 68.5 34 67.5C32.3 66.5 29.3 64.5 28 63.5C26.7 62.5 25 61.1 24.5 60C24 58.9 23.5 56.3 24 55Z" fill="#A0D70F" /><rect x="90.7" y="44.2" width="31.5" height="16.5" fill="#0F5F96"/><rect x="90.7" y="44.2" width="3.8" height="16.5" fill="#32C846"/><rect x="94.5" y="44.2" width="5" height="16.5" fill="#14B4F5"/><rect x="108.6" y="44.2" width="5.4" height="16.5" fill="#A0D70F"/><rect x="114" y="44.2" width="8.2" height="16.5" fill="#FFFF00"/><path d="M84 52.6H92" stroke="#e8d060" stroke-width="0.6"/><rect x="88.3" y="99" width="4.5" height="4.5" fill="#A0D70F"/><g transform="scale(0.9923 0.9958)"><use href="#veg"/><use href="#bld"/></g></g></g><path d="M-0.6 0V120.2H179.6" stroke="#b4bfcc" stroke-width="1" fill="none"/><path d="M-2.8 119.7H-1.2M-2.8 107.7H-1.2M-2.8 95.8H-1.2M-2.8 83.8H-1.2M-2.8 71.8H-1.2M-2.8 59.9H-1.2M-2.8 47.9H-1.2M-2.8 35.9H-1.2M-2.8 23.9H-1.2M-2.8 12H-1.2M-2.8 0H-1.2M0 120.5V122.1M12 120.5V122.1M23.9 120.5V122.1M35.9 120.5V122.1M47.9 120.5V122.1M59.9 120.5V122.1M71.8 120.5V122.1M83.8 120.5V122.1M95.8 120.5V122.1M107.8 120.5V122.1M119.7 120.5V122.1M131.7 120.5V122.1M143.7 120.5V122.1M155.7 120.5V122.1M167.6 120.5V122.1M179.6 120.5V122.1" stroke="#333" stroke-width="0.7" fill="none"/><g class="tk" text-anchor="end"><text x="-3.4" y="120.9">0.00</text><text x="-3.4" y="108.9">30.00</text><text x="-3.4" y="97">60.00</text><text x="-3.4" y="85">90.00</text><text x="-3.4" y="73">120.00</text><text x="-3.4" y="61.1">150.00</text><text x="-3.4" y="49.1">180.00</text><text x="-3.4" y="37.1">210.00</text><text x="-3.4" y="25.1">240.00</text><text x="-3.4" y="13.2">270.00</text><text x="-3.4" y="1.2">300.00</text></g><g class="tk" text-anchor="middle"><text x="0" y="126.9">0.00</text><text x="12" y="126.9">30.00</text><text x="23.9" y="126.9">60.00</text><text x="35.9" y="126.9">90.00</text><text x="47.9" y="126.9">120.00</text><text x="59.9" y="126.9">150.00</text><text x="71.8" y="126.9">180.00</text><text x="83.8" y="126.9">210.00</text><text x="95.8" y="126.9">240.00</text><text x="107.8" y="126.9">270.00</text><text x="119.7" y="126.9">300.00</text><text x="131.7" y="126.9">330.00</text><text x="143.7" y="126.9">360.00</text><text x="155.7" y="126.9">390.00</text><text x="167.6" y="126.9">420.00</text><text x="179.6" y="126.9">450.00</text></g><text class="ax" text-anchor="middle" x="89.8" y="133.5">X (m)</text><text class="ax" text-anchor="middle" transform="translate(-19.3 59.9) rotate(-90)">Y (m)</text><text class="lt" x="183.4" y="6" textLength="69.3" lengthAdjust="spacingAndGlyphs" style="font-size:5.03px">absolute difference Potential</text><text class="lt" x="183.4" y="11.2" textLength="38.8" lengthAdjust="spacingAndGlyphs" style="font-size:5.03px">Air Temperature</text><rect x="182.8" y="16.9" width="14.2" height="5.3" fill="#0F5F96" stroke="#76828f" stroke-width="0.5"/><text class="ll" x="203.4" y="21.1" style="font-size:4.93px">below -0.07 K</text><rect x="182.8" y="24.2" width="14.2" height="5.3" fill="#2878D2" stroke="#76828f" stroke-width="0.5"/><text class="ll" x="203.4" y="28.3" style="font-size:4.93px">-0.07 to -0.06 K</text><rect x="182.8" y="31.4" width="14.2" height="5.3" fill="#14B4F5" stroke="#76828f" stroke-width="0.5"/><text class="ll" x="203.4" y="35.6" style="font-size:4.93px">-0.06 to -0.05 K</text><rect x="182.8" y="38.7" width="14.2" height="5.3" fill="#32C846" stroke="#76828f" stroke-width="0.5"/><text class="ll" x="203.4" y="42.8" style="font-size:4.93px">-0.05 to -0.04 K</text><rect x="182.8" y="45.9" width="14.2" height="5.3" fill="#A0D70F" stroke="#76828f" stroke-width="0.5"/><text class="ll" x="203.4" y="50.1" style="font-size:4.93px">-0.04 to -0.03 K</text><rect x="182.8" y="53.2" width="14.2" height="5.3" fill="#FFFF00" stroke="#76828f" stroke-width="0.5"/><text class="ll" x="203.4" y="57.3" style="font-size:4.93px">-0.03 to -0.02 K</text><rect x="182.8" y="60.4" width="14.2" height="5.3" fill="#FFA500" stroke="#76828f" stroke-width="0.5"/><text class="ll" x="203.4" y="64.6" style="font-size:4.93px">-0.02 to -0.01 K</text><rect x="182.8" y="67.7" width="14.2" height="5.3" fill="#FF0000" stroke="#76828f" stroke-width="0.5"/><text class="ll" x="203.4" y="71.8" style="font-size:4.93px">-0.01 to 0.00 K</text><rect x="182.8" y="74.9" width="14.2" height="5.3" fill="#FF00AA" stroke="#76828f" stroke-width="0.5"/><text class="ll" x="203.4" y="79.1" style="font-size:4.93px">0.00 to 0.01 K</text><rect x="182.8" y="82.2" width="14.2" height="5.3" fill="#FF3CFF" stroke="#76828f" stroke-width="0.5"/><text class="ll" x="203.4" y="86.3" style="font-size:4.93px">above 0.01 K</text><text class="ll" x="182.6" y="97.6" style="font-size:4.93px">Min: -0.39 K</text><text class="ll" x="182.6" y="102.5" style="font-size:4.93px">Max: -0.01 K</text><circle cx="213.1" cy="118.7" r="8" fill="#c3c3c3"/><path d="M209.4 108L219.7 126.3L214.8 123.5L212.2 129.1Z" fill="#000"/><circle cx="213.1" cy="120.7" r="1" fill="#e8e8e8"/></g><text class="cap2" text-anchor="middle" x="386.8" y="317.6">permeable pavement with 40%</text><text class="cap2" text-anchor="middle" x="386.8" y="326.3">grass scenario</text>
<g transform="translate(23.1 338.3)"><g clip-path="url(#mcp5)"><g filter="url(#bl)"><rect x="-5" y="-5" width="198" height="136" fill="#FFFF00"/><path d="M140.8 24.1C141.2 23.5 144.6 22.5 146.8 22.9C149 23.3 152.4 25.2 154 26.5C155.6 27.8 156.8 30.3 156.4 30.9C156 31.5 153.6 30.9 151.6 30.2C149.6 29.5 146.2 27.5 144.4 26.5C142.6 25.5 140.4 24.7 140.8 24.1Z" fill="#FFA500" /><path d="M189 33C187.7 30.9 177.4 35.3 175.7 36.2C174 37.1 172.5 41 172.1 42.2C171.7 43.4 171.2 47.2 171.4 48.3C171.6 49.4 172.7 52.7 174.5 53.6C176.3 54.5 187.6 59.6 189 57.5C190.4 55.4 190.3 35.1 189 33Z" fill="#FFA500" /><path d="M107 17.1C108.5 16.3 113.7 17.9 116.1 18.9C118.5 19.9 123.2 22.9 125.1 24.4C127 25.9 129.1 28.5 130.6 29.8C132.1 31.1 134.7 33.1 136 34.3C137.3 35.5 139.3 37.7 140.5 38.9C141.7 40.1 143.7 42.7 145 43.4C146.3 44.1 148.8 44.4 150.5 44.3C152.2 44.2 155.8 42.6 157.7 42.5C159.6 42.4 163.4 42.7 165 43.4C166.6 44.1 168.8 46.3 169.5 47.9C170.2 49.5 170.6 53.4 170.4 55.2C170.2 57 168.9 60.1 167.7 61.5C166.5 62.9 163.1 64.9 161.3 66C159.5 67.1 156 68.6 154.1 69.7C152.2 70.8 148.8 72.9 146.9 74.2C145 75.5 141.3 78 139.6 79.6C137.9 81.2 135.5 84.2 134.2 86C132.9 87.8 130.8 91.1 129.6 93.2C128.4 95.3 126.6 99.4 125 101.7C123.4 104 119.2 108.3 117.5 110.5C115.8 112.7 113.4 116.3 112.5 118.5C111.6 120.7 112.1 125.9 111 127C109.9 128.1 104.1 130.6 104 127C103.9 123.4 108.1 106.3 110 100C111.9 93.7 116.9 88 118 80C119.1 72 119.7 47.3 118 40C116.3 32.7 106.5 28.1 105 25C103.5 21.9 105.5 17.9 107 17.1Z" fill="#32C846" stroke="#A0D70F" stroke-width="1.6" stroke-linejoin="round"/><path d="M134.2 38.9C134.6 36.8 135.8 32.8 136.9 32.5C138 32.2 139.3 35.4 140.5 37.1C141.7 38.8 142.9 40.7 144.1 42.5C145.3 44.3 147 45.8 147.8 47.9C148.6 50 149.2 53.2 148.7 55.2C148.2 57.2 146.5 59.4 145 59.7C143.5 60 141.1 58.4 139.6 57C138.1 55.6 136.9 53.6 136 51.6C135.1 49.6 134.5 47.3 134.2 45.2C133.9 43.1 133.8 41 134.2 38.9Z" fill="#A0D70F" /><path d="M131 74C132.2 71.9 134.5 72.2 137 71.5C139.5 70.8 143.2 70.2 146 69.5C148.8 68.8 152.3 67.2 154 67C155.7 66.8 157 67.6 156 68.5C155 69.4 150.7 71 148 72.5C145.3 74 142.3 75.8 140 77.5C137.7 79.2 135.7 81.9 134 83C132.3 84.1 130.5 85.5 130 84C129.5 82.5 129.8 76.1 131 74Z" fill="#A0D70F" /><ellipse cx="152.7" cy="65.1" rx="3.2" ry="2.5" fill="#14B4F5"/><circle cx="137" cy="73.7" r="1.5" fill="#14B4F5"/><path d="M160.5 44.5C160.8 43.8 163.4 44.6 164.5 45.5C165.6 46.4 166.6 48.2 167 50C167.4 51.8 167.3 54.2 166.8 56C166.3 57.8 165 59.8 164 60.6C163 61.4 161.2 61.8 161 61C160.8 60.2 162.7 57.8 163 56C163.3 54.2 163.4 51.9 163 50C162.6 48.1 160.2 45.2 160.5 44.5Z" fill="#14B4F5" /><path d="M160.5 46C160.7 45.3 162.6 46.2 163.3 47C164 47.8 164.6 49.5 164.8 51C165 52.5 164.7 54.7 164.3 56C163.9 57.3 163 58.8 162.5 59C162 59.2 161.6 58.3 161.5 57C161.4 55.7 162.2 52.8 162 51C161.8 49.2 160.3 46.7 160.5 46Z" fill="#2878D2" /><path d="M-2 19.5C-1.8 16.9 -0.6 19.9 0 19.5C0.6 19.1 3.4 16.6 4.4 15.9C5.4 15.2 8.9 13.5 10.2 13C11.5 12.5 15.9 10.9 17.5 10.5C19.1 10.1 24.5 9.1 26.2 9C27.9 8.9 33.2 9.1 34.9 9.3C36.6 9.6 41.3 10.7 43.6 11.5C45.9 12.3 56.8 15.8 58.2 17.6C59.6 19.5 64 27.3 58 30C52 32.7 4 46 -2 45C-8 44 -2.2 22.1 -2 19.5Z" fill="#A0D70F" /><path d="M-2 23.2C-1.8 21 -0.6 23.6 0 23.2C0.6 22.8 3.4 20.2 4.4 19.5C5.4 18.8 8.9 16.6 10.2 15.9C11.5 15.2 15.9 13.5 17.5 13C19.1 12.5 24.5 11.3 26.2 11.1C27.9 10.9 33.2 10.9 34.9 11.1C36.6 11.3 41.5 12.3 43.6 13C45.7 13.7 54.6 16.6 56 18.3C57.4 20 63.8 27.3 58 30C52.2 32.7 4 45.7 -2 45C-8 44.3 -2.2 25.4 -2 23.2Z" fill="#32C846" /><path d="M-2 27.5C-1.8 25.8 -0.6 27.9 0 27.5C0.6 27.1 2.7 24 3.6 23.2C4.5 22.4 7.5 20.2 8.7 19.5C9.9 18.8 14.4 16.5 16 15.9C17.6 15.3 22.9 13.8 24.7 13.4C26.5 13 32.5 12.1 34.2 12.2C36 12.3 41 13.6 42.2 14C43.4 14.4 45.1 16.1 46.5 16.6C47.9 17.1 54.9 17.7 56 19C57.1 20.3 63.8 27.4 58 30C52.2 32.6 4 45.2 -2 45C-8 44.8 -2.2 29.2 -2 27.5Z" fill="#14B4F5" /><path d="M-2 31.9C-1.8 30.6 -0.5 32.3 0 31.9C0.5 31.5 2.2 28.4 2.9 27.5C3.6 26.6 6.1 24.1 7.3 23.2C8.5 22.3 12.9 19.6 14.5 18.8C16.1 18 21.4 15.9 23.3 15.4C25.2 14.9 31.6 13.7 33.5 13.7C35.4 13.7 40.6 14.9 42.2 15.4C43.9 15.9 48.4 17.5 50 19C51.6 20.5 63.2 27.4 58 30C52.8 32.6 4 44.8 -2 45C-8 45.2 -2.2 33.2 -2 31.9Z" fill="#2878D2" /><path d="M-2 39.9C-1.7 32.4 -0.6 40.7 0 39.9C0.6 39.1 1.5 35.6 2.2 34.1C2.9 32.6 4.1 30.3 5.1 29C6.1 27.7 8 25.8 9.5 24.6C11 23.4 14.1 21.2 16 20.2C17.9 19.2 21.7 17.9 24 17.3C26.3 16.7 31.1 15.9 33.5 15.9C35.9 15.9 40.3 16.8 42.2 17.3C44.1 17.8 45.9 19.1 48 19.5C50.1 19.9 55.6 20.4 58 20.5C60.4 20.6 64.1 20.2 66 20.3C67.9 20.4 69.3 21.3 72 21.2C74.7 21.1 82.6 19.9 86.5 19.8C90.4 19.7 98.3 20.4 101 20.5C103.7 20.6 105.2 20.3 107 20.5C108.8 20.7 112.3 21.4 114.2 22.2C116.1 23 119.6 25.2 121 26.5C122.4 27.8 124 30.2 124.6 31.6C125.2 33 125.3 35.3 125.5 37C125.7 38.7 125.6 42.7 126 44C126.4 45.3 128.3 44.9 128.8 47C129.3 49.1 129.6 56.7 129.6 60C129.6 63.3 129.3 68.8 129 71.5C128.7 74.2 127.7 78.1 127 80.5C126.3 82.9 124.9 87.3 124 89.6C123.1 91.9 121.6 95.5 120.5 97.7C119.4 99.9 117.1 104 116 106C114.9 108 113 111.2 112 113C111 114.8 109.1 117.6 108.5 119.5C107.9 121.4 110.8 126 107.5 127C104.2 128 87.1 128.1 83.5 127C79.9 125.9 81.5 120.2 80.2 118.8C78.9 117.4 75.1 117.1 73.6 116.3C72.1 115.5 69.7 113.8 68.7 112.6C67.7 111.4 66.8 108.8 66.3 107.3C65.8 105.8 65.3 103.1 64.6 101.6C63.9 100.1 62.6 97.2 61.4 95.9C60.2 94.6 57.2 92.7 55.6 91.8C54 90.9 50.7 89.8 49.1 89.3C47.5 88.8 45.1 88 43.4 88C41.7 88 38.1 88.5 36 89C33.9 89.5 30 91.1 27.8 91.8C25.6 92.5 22 93.7 19.6 94.2C17.2 94.7 12.4 95.4 9.8 95.6C7.2 95.8 1.6 95.9 0 95.9C-1.6 95.9 -1.7 103.4 -2 95.9C-2.3 88.4 -2.3 47.4 -2 39.9Z" fill="none" stroke="#A0D70F" stroke-width="7" stroke-linejoin="round"/><path d="M-2 39.9C-1.7 32.4 -0.6 40.7 0 39.9C0.6 39.1 1.5 35.6 2.2 34.1C2.9 32.6 4.1 30.3 5.1 29C6.1 27.7 8 25.8 9.5 24.6C11 23.4 14.1 21.2 16 20.2C17.9 19.2 21.7 17.9 24 17.3C26.3 16.7 31.1 15.9 33.5 15.9C35.9 15.9 40.3 16.8 42.2 17.3C44.1 17.8 45.9 19.1 48 19.5C50.1 19.9 55.6 20.4 58 20.5C60.4 20.6 64.1 20.2 66 20.3C67.9 20.4 69.3 21.3 72 21.2C74.7 21.1 82.6 19.9 86.5 19.8C90.4 19.7 98.3 20.4 101 20.5C103.7 20.6 105.2 20.3 107 20.5C108.8 20.7 112.3 21.4 114.2 22.2C116.1 23 119.6 25.2 121 26.5C122.4 27.8 124 30.2 124.6 31.6C125.2 33 125.3 35.3 125.5 37C125.7 38.7 125.6 42.7 126 44C126.4 45.3 128.3 44.9 128.8 47C129.3 49.1 129.6 56.7 129.6 60C129.6 63.3 129.3 68.8 129 71.5C128.7 74.2 127.7 78.1 127 80.5C126.3 82.9 124.9 87.3 124 89.6C123.1 91.9 121.6 95.5 120.5 97.7C119.4 99.9 117.1 104 116 106C114.9 108 113 111.2 112 113C111 114.8 109.1 117.6 108.5 119.5C107.9 121.4 110.8 126 107.5 127C104.2 128 87.1 128.1 83.5 127C79.9 125.9 81.5 120.2 80.2 118.8C78.9 117.4 75.1 117.1 73.6 116.3C72.1 115.5 69.7 113.8 68.7 112.6C67.7 111.4 66.8 108.8 66.3 107.3C65.8 105.8 65.3 103.1 64.6 101.6C63.9 100.1 62.6 97.2 61.4 95.9C60.2 94.6 57.2 92.7 55.6 91.8C54 90.9 50.7 89.8 49.1 89.3C47.5 88.8 45.1 88 43.4 88C41.7 88 38.1 88.5 36 89C33.9 89.5 30 91.1 27.8 91.8C25.6 92.5 22 93.7 19.6 94.2C17.2 94.7 12.4 95.4 9.8 95.6C7.2 95.8 1.6 95.9 0 95.9C-1.6 95.9 -1.7 103.4 -2 95.9C-2.3 88.4 -2.3 47.4 -2 39.9Z" fill="none" stroke="#32C846" stroke-width="5" stroke-linejoin="round"/><path d="M-2 39.9C-1.7 32.4 -0.6 40.7 0 39.9C0.6 39.1 1.5 35.6 2.2 34.1C2.9 32.6 4.1 30.3 5.1 29C6.1 27.7 8 25.8 9.5 24.6C11 23.4 14.1 21.2 16 20.2C17.9 19.2 21.7 17.9 24 17.3C26.3 16.7 31.1 15.9 33.5 15.9C35.9 15.9 40.3 16.8 42.2 17.3C44.1 17.8 45.9 19.1 48 19.5C50.1 19.9 55.6 20.4 58 20.5C60.4 20.6 64.1 20.2 66 20.3C67.9 20.4 69.3 21.3 72 21.2C74.7 21.1 82.6 19.9 86.5 19.8C90.4 19.7 98.3 20.4 101 20.5C103.7 20.6 105.2 20.3 107 20.5C108.8 20.7 112.3 21.4 114.2 22.2C116.1 23 119.6 25.2 121 26.5C122.4 27.8 124 30.2 124.6 31.6C125.2 33 125.3 35.3 125.5 37C125.7 38.7 125.6 42.7 126 44C126.4 45.3 128.3 44.9 128.8 47C129.3 49.1 129.6 56.7 129.6 60C129.6 63.3 129.3 68.8 129 71.5C128.7 74.2 127.7 78.1 127 80.5C126.3 82.9 124.9 87.3 124 89.6C123.1 91.9 121.6 95.5 120.5 97.7C119.4 99.9 117.1 104 116 106C114.9 108 113 111.2 112 113C111 114.8 109.1 117.6 108.5 119.5C107.9 121.4 110.8 126 107.5 127C104.2 128 87.1 128.1 83.5 127C79.9 125.9 81.5 120.2 80.2 118.8C78.9 117.4 75.1 117.1 73.6 116.3C72.1 115.5 69.7 113.8 68.7 112.6C67.7 111.4 66.8 108.8 66.3 107.3C65.8 105.8 65.3 103.1 64.6 101.6C63.9 100.1 62.6 97.2 61.4 95.9C60.2 94.6 57.2 92.7 55.6 91.8C54 90.9 50.7 89.8 49.1 89.3C47.5 88.8 45.1 88 43.4 88C41.7 88 38.1 88.5 36 89C33.9 89.5 30 91.1 27.8 91.8C25.6 92.5 22 93.7 19.6 94.2C17.2 94.7 12.4 95.4 9.8 95.6C7.2 95.8 1.6 95.9 0 95.9C-1.6 95.9 -1.7 103.4 -2 95.9C-2.3 88.4 -2.3 47.4 -2 39.9Z" fill="none" stroke="#14B4F5" stroke-width="3" stroke-linejoin="round"/><path d="M-2 19.5C-1.8 16.9 -0.6 19.9 0 19.5C0.6 19.1 3.4 16.6 4.4 15.9C5.4 15.2 8.9 13.5 10.2 13C11.5 12.5 15.9 10.9 17.5 10.5C19.1 10.1 24.5 9.1 26.2 9C27.9 8.9 33.2 9.1 34.9 9.3C36.6 9.6 41.3 10.7 43.6 11.5C45.9 12.3 56.8 15.8 58.2 17.6C59.6 19.5 64 27.3 58 30C52 32.7 4 46 -2 45C-8 44 -2.2 22.1 -2 19.5Z" fill="#A0D70F" /><path d="M-2 23.2C-1.8 21 -0.6 23.6 0 23.2C0.6 22.8 3.4 20.2 4.4 19.5C5.4 18.8 8.9 16.6 10.2 15.9C11.5 15.2 15.9 13.5 17.5 13C19.1 12.5 24.5 11.3 26.2 11.1C27.9 10.9 33.2 10.9 34.9 11.1C36.6 11.3 41.5 12.3 43.6 13C45.7 13.7 54.6 16.6 56 18.3C57.4 20 63.8 27.3 58 30C52.2 32.7 4 45.7 -2 45C-8 44.3 -2.2 25.4 -2 23.2Z" fill="#32C846" /><path d="M-2 27.5C-1.8 25.8 -0.6 27.9 0 27.5C0.6 27.1 2.7 24 3.6 23.2C4.5 22.4 7.5 20.2 8.7 19.5C9.9 18.8 14.4 16.5 16 15.9C17.6 15.3 22.9 13.8 24.7 13.4C26.5 13 32.5 12.1 34.2 12.2C36 12.3 41 13.6 42.2 14C43.4 14.4 45.1 16.1 46.5 16.6C47.9 17.1 54.9 17.7 56 19C57.1 20.3 63.8 27.4 58 30C52.2 32.6 4 45.2 -2 45C-8 44.8 -2.2 29.2 -2 27.5Z" fill="#14B4F5" /><path d="M-2 31.9C-1.8 30.6 -0.5 32.3 0 31.9C0.5 31.5 2.2 28.4 2.9 27.5C3.6 26.6 6.1 24.1 7.3 23.2C8.5 22.3 12.9 19.6 14.5 18.8C16.1 18 21.4 15.9 23.3 15.4C25.2 14.9 31.6 13.7 33.5 13.7C35.4 13.7 40.6 14.9 42.2 15.4C43.9 15.9 48.4 17.5 50 19C51.6 20.5 63.2 27.4 58 30C52.8 32.6 4 44.8 -2 45C-8 45.2 -2.2 33.2 -2 31.9Z" fill="#2878D2" /><path d="M-2 94.5C-1.8 91.2 -1.2 94.5 0 94.5C1.2 94.5 7.8 94.6 9.8 94.4C11.8 94.2 17.8 93.4 19.6 93C21.4 92.6 26.2 91.1 27.8 90.6C29.4 90.1 34.4 88.2 36 87.8C37.6 87.4 42.1 86.8 43.4 86.8C44.7 86.8 47.9 87.6 49.1 88C50.3 88.4 54.4 89.9 55.6 90.6C56.8 91.3 60.5 93.6 61.4 94.6C62.3 95.6 64.1 99.3 64.6 100.4C65.1 101.5 65.9 104.9 66.3 106C66.7 107.1 68 110.5 68.7 111.4C69.4 112.3 72.4 114.5 73.6 115.1C74.8 115.7 79.1 116.4 80.2 117.6C81.3 118.8 93.2 126.1 85 127C76.8 127.9 6.7 130.2 -2 127C-10.7 123.8 -2.2 97.8 -2 94.5Z" fill="#2878D2" /><path d="M-2 97.5C-1.8 94.5 -1.2 97.5 0 97.5C1.2 97.5 7.8 97.3 9.8 97.2C11.8 97.1 18 96.5 19.6 96.2C21.2 95.9 24.9 94.6 26.2 94.2C27.5 93.8 31.4 92.8 32.7 92.6C34 92.4 38 91.8 39.3 91.8C40.6 91.8 44.5 92.3 45.8 92.6C47.1 92.9 51.2 94.4 52.4 95.1C53.5 95.8 56.5 98.3 57.3 99.2C58.1 100.1 59.7 103 60.2 104.1C60.7 105.2 61.8 108.7 62.2 109.8C62.6 110.9 63.9 113.9 64.6 114.7C65.3 115.5 68.5 117.5 69.6 118C70.7 118.5 74.7 119.1 75.3 120C75.9 120.9 83.7 126.3 76 127C68.3 127.7 5.8 129.9 -2 127C-9.8 124 -2.2 100.5 -2 97.5Z" fill="#14B4F5" /><path d="M-2 101.6C-1.8 99.1 -0.8 101.7 0 101.6C0.8 101.5 5.2 101 6.5 100.8C7.8 100.6 11.8 100.2 13.1 100C14.4 99.8 18.1 99 19.6 98.8C21.1 98.6 26.2 98.3 27.8 98.3C29.4 98.3 34.6 98.5 36 98.8C37.4 99 40.9 100.2 41.7 100.8C42.5 101.4 44 104.1 44.2 104.9C44.4 105.7 43.2 108.2 43.4 109C43.6 109.8 45.1 111.9 45.8 112.6C46.5 113.3 49.7 115.7 50.7 116.3C51.7 116.9 54.8 118.4 55.6 118.8C56.4 119.2 58.5 119.2 58.9 120C59.3 120.8 66.1 126.3 60 127C53.9 127.7 4.2 129.5 -2 127C-8.2 124.5 -2.2 104.1 -2 101.6Z" fill="#32C846" /><path d="M-2 111.4C-1.8 109.8 -0.8 111.5 0 111.4C0.8 111.3 5 110.7 6.5 110.6C8 110.5 13.1 110.3 14.7 110.3C16.3 110.3 21.3 110.4 22.9 110.6C24.5 110.8 29.6 112.1 31.1 112.6C32.6 113.1 36.5 114.9 37.6 115.5C38.7 116.1 41.2 118.3 41.7 118.8C42.2 119.2 42.8 119.2 42.9 120C43 120.8 47.5 126.3 43 127C38.5 127.7 2.5 128.6 -2 127C-6.5 125.4 -2.2 113 -2 111.4Z" fill="#A0D70F" /><path d="M-2 39.9C-1.7 32.4 -0.6 40.7 0 39.9C0.6 39.1 1.5 35.6 2.2 34.1C2.9 32.6 4.1 30.3 5.1 29C6.1 27.7 8 25.8 9.5 24.6C11 23.4 14.1 21.2 16 20.2C17.9 19.2 21.7 17.9 24 17.3C26.3 16.7 31.1 15.9 33.5 15.9C35.9 15.9 40.3 16.8 42.2 17.3C44.1 17.8 45.9 19.1 48 19.5C50.1 19.9 55.6 20.4 58 20.5C60.4 20.6 64.1 20.2 66 20.3C67.9 20.4 69.3 21.3 72 21.2C74.7 21.1 82.6 19.9 86.5 19.8C90.4 19.7 98.3 20.4 101 20.5C103.7 20.6 105.2 20.3 107 20.5C108.8 20.7 112.3 21.4 114.2 22.2C116.1 23 119.6 25.2 121 26.5C122.4 27.8 124 30.2 124.6 31.6C125.2 33 125.3 35.3 125.5 37C125.7 38.7 125.6 42.7 126 44C126.4 45.3 128.3 44.9 128.8 47C129.3 49.1 129.6 56.7 129.6 60C129.6 63.3 129.3 68.8 129 71.5C128.7 74.2 127.7 78.1 127 80.5C126.3 82.9 124.9 87.3 124 89.6C123.1 91.9 121.6 95.5 120.5 97.7C119.4 99.9 117.1 104 116 106C114.9 108 113 111.2 112 113C111 114.8 109.1 117.6 108.5 119.5C107.9 121.4 110.8 126 107.5 127C104.2 128 87.1 128.1 83.5 127C79.9 125.9 81.5 120.2 80.2 118.8C78.9 117.4 75.1 117.1 73.6 116.3C72.1 115.5 69.7 113.8 68.7 112.6C67.7 111.4 66.8 108.8 66.3 107.3C65.8 105.8 65.3 103.1 64.6 101.6C63.9 100.1 62.6 97.2 61.4 95.9C60.2 94.6 57.2 92.7 55.6 91.8C54 90.9 50.7 89.8 49.1 89.3C47.5 88.8 45.1 88 43.4 88C41.7 88 38.1 88.5 36 89C33.9 89.5 30 91.1 27.8 91.8C25.6 92.5 22 93.7 19.6 94.2C17.2 94.7 12.4 95.4 9.8 95.6C7.2 95.8 1.6 95.9 0 95.9C-1.6 95.9 -1.7 103.4 -2 95.9C-2.3 88.4 -2.3 47.4 -2 39.9Z" fill="#0F5F96" stroke="#2878D2" stroke-width="1.2" stroke-linejoin="round" paint-order="stroke"/><path d="M23.9 61.7C24.2 60.5 26.6 58 28 56.8C29.4 55.6 32.5 53.5 34.5 52.7C36.5 51.9 40.3 51.2 42.7 51.1C45.1 51 50 51.8 52.6 51.9C55.2 52 59.8 52.3 62.4 51.9C65 51.5 69.8 49.5 72.2 48.6C74.6 47.7 78.5 46 80.4 45.3C82.3 44.6 85.3 40.9 86.1 43.7C86.9 46.5 87.1 63.5 86.1 66.6C85.1 69.7 80.6 66.5 78.7 66.6C76.8 66.7 73.6 67 72.2 67.4C70.8 67.8 69.2 69.1 68.1 69.9C67 70.7 65.4 72.4 64 73.2C62.6 74 59.7 75.3 57.5 75.6C55.3 75.9 50.1 75.7 47.6 75.3C45.1 74.9 40.8 73.1 38.6 72.3C36.4 71.5 33 70 31.3 69.1C29.6 68.2 26.5 66.8 25.5 65.8C24.5 64.8 23.6 62.9 23.9 61.7Z" fill="#14B4F5" stroke="#2878D2" stroke-width="1.6" stroke-linejoin="round"/><path d="M33 61.5C33.1 60.3 34.4 58.5 35.5 57.8C36.6 57.1 39 56.3 41.1 56C43.2 55.7 48.4 55.7 50.9 55.8C53.4 55.9 58.2 56.4 60 57C61.8 57.6 63.7 59 64.5 60C65.3 61 66.2 63 66 64.2C65.8 65.4 64.4 67.9 63.3 69C62.2 70.1 59.6 71.8 57.5 72.3C55.4 72.8 49.9 73 47.6 72.8C45.3 72.6 41.7 71.3 40 70.5C38.3 69.7 35.9 67.8 35 66.6C34.1 65.4 32.9 62.7 33 61.5Z" fill="#32C846" /><path d="M40 62.5C40.1 62 41.9 60.4 43 60C44.1 59.6 46.4 59.3 48 59.3C49.6 59.3 53.7 59.5 55 59.8C56.3 60.1 58.7 61.1 58 61.5C57.3 61.9 52.1 62.7 50 63C47.9 63.3 43.3 64.1 42 64C40.7 63.9 39.9 63 40 62.5Z" fill="#A0D70F" /><circle cx="38.8" cy="66.5" r="1.3" fill="#FFFF00"/><circle cx="59.8" cy="60.2" r="1.5" fill="#FFA500"/><circle cx="60.2" cy="59.7" r="0.8" fill="#FF00AA"/><rect x="90.7" y="44.2" width="31.5" height="16.5" fill="#0F5F96"/><rect x="90.7" y="44.2" width="11.5" height="16.5" fill="#14B4F5"/><rect x="111" y="44.2" width="11.2" height="16.5" fill="#32C846"/><rect x="115" y="45.5" width="6" height="13" fill="#A0D70F"/><path d="M84 52.6H92" stroke="#9be070" stroke-width="0.6"/><g transform="scale(1.0077 1.0133)"><use href="#veg"/><use href="#bld"/></g></g></g><path d="M-0.6 0V122.3H182.4" stroke="#b4bfcc" stroke-width="1" fill="none"/><path d="M-2.8 121.8H-1.2M-2.8 109.6H-1.2M-2.8 97.4H-1.2M-2.8 85.3H-1.2M-2.8 73.1H-1.2M-2.8 60.9H-1.2M-2.8 48.7H-1.2M-2.8 36.5H-1.2M-2.8 24.4H-1.2M-2.8 12.2H-1.2M-2.8 0H-1.2M0 122.6V124.2M12.2 122.6V124.2M24.3 122.6V124.2M36.5 122.6V124.2M48.6 122.6V124.2M60.8 122.6V124.2M73 122.6V124.2M85.1 122.6V124.2M97.3 122.6V124.2M109.4 122.6V124.2M121.6 122.6V124.2M133.8 122.6V124.2M145.9 122.6V124.2M158.1 122.6V124.2M170.2 122.6V124.2M182.4 122.6V124.2" stroke="#333" stroke-width="0.7" fill="none"/><g class="tk" text-anchor="end"><text x="-3.4" y="123">0.00</text><text x="-3.4" y="110.8">30.00</text><text x="-3.4" y="98.6">60.00</text><text x="-3.4" y="86.5">90.00</text><text x="-3.4" y="74.3">120.00</text><text x="-3.4" y="62.1">150.00</text><text x="-3.4" y="49.9">180.00</text><text x="-3.4" y="37.7">210.00</text><text x="-3.4" y="25.6">240.00</text><text x="-3.4" y="13.4">270.00</text><text x="-3.4" y="1.2">300.00</text></g><g class="tk" text-anchor="middle"><text x="0" y="129">0.00</text><text x="12.2" y="129">30.00</text><text x="24.3" y="129">60.00</text><text x="36.5" y="129">90.00</text><text x="48.6" y="129">120.00</text><text x="60.8" y="129">150.00</text><text x="73" y="129">180.00</text><text x="85.1" y="129">210.00</text><text x="97.3" y="129">240.00</text><text x="109.4" y="129">270.00</text><text x="121.6" y="129">300.00</text><text x="133.8" y="129">330.00</text><text x="145.9" y="129">360.00</text><text x="158.1" y="129">390.00</text><text x="170.2" y="129">420.00</text><text x="182.4" y="129">450.00</text></g><text class="ax" text-anchor="middle" x="91.2" y="135.6">X (m)</text><text class="ax" text-anchor="middle" transform="translate(-19.3 60.9) rotate(-90)">Y (m)</text><text class="lt" x="185.7" y="5" textLength="68.9" lengthAdjust="spacingAndGlyphs" style="font-size:5.00px">absolute difference Potential</text><text class="lt" x="185.7" y="10.4" textLength="38.6" lengthAdjust="spacingAndGlyphs" style="font-size:5.00px">Air Temperature</text><rect x="185.4" y="16.2" width="14.2" height="5.3" fill="#0F5F96" stroke="#76828f" stroke-width="0.5"/><text class="ll" x="205.8" y="20.4" style="font-size:4.90px">below -0.07 K</text><rect x="185.4" y="23.4" width="14.2" height="5.3" fill="#2878D2" stroke="#76828f" stroke-width="0.5"/><text class="ll" x="205.8" y="27.6" style="font-size:4.90px">-0.07 to -0.06 K</text><rect x="185.4" y="30.6" width="14.2" height="5.3" fill="#14B4F5" stroke="#76828f" stroke-width="0.5"/><text class="ll" x="205.8" y="34.7" style="font-size:4.90px">-0.06 to -0.05 K</text><rect x="185.4" y="37.7" width="14.2" height="5.3" fill="#32C846" stroke="#76828f" stroke-width="0.5"/><text class="ll" x="205.8" y="41.9" style="font-size:4.90px">-0.05 to -0.04 K</text><rect x="185.4" y="44.9" width="14.2" height="5.3" fill="#A0D70F" stroke="#76828f" stroke-width="0.5"/><text class="ll" x="205.8" y="49" style="font-size:4.90px">-0.04 to -0.03 K</text><rect x="185.4" y="52" width="14.2" height="5.3" fill="#FFFF00" stroke="#76828f" stroke-width="0.5"/><text class="ll" x="205.8" y="56.2" style="font-size:4.90px">-0.03 to -0.02 K</text><rect x="185.4" y="59.2" width="14.2" height="5.3" fill="#FFA500" stroke="#76828f" stroke-width="0.5"/><text class="ll" x="205.8" y="63.3" style="font-size:4.90px">-0.02 to -0.01 K</text><rect x="185.4" y="66.3" width="14.2" height="5.3" fill="#FF0000" stroke="#76828f" stroke-width="0.5"/><text class="ll" x="205.8" y="70.5" style="font-size:4.90px">-0.01 to 0.00 K</text><rect x="185.4" y="73.5" width="14.2" height="5.3" fill="#FF00AA" stroke="#76828f" stroke-width="0.5"/><text class="ll" x="205.8" y="77.6" style="font-size:4.90px">0.00 to 0.01 K</text><rect x="185.4" y="80.7" width="14.2" height="5.3" fill="#FF3CFF" stroke="#76828f" stroke-width="0.5"/><text class="ll" x="205.8" y="84.8" style="font-size:4.90px">above 0.01 K</text><text class="ll" x="185.2" y="96.6" style="font-size:4.90px">Min: -0.44 K</text><text class="ll" x="185.2" y="102" style="font-size:4.90px">Max: 0.09 K</text><circle cx="215.7" cy="115.1" r="8" fill="#c3c3c3"/><path d="M212 104.4L222.3 122.7L217.4 119.9L214.8 125.5Z" fill="#000"/><circle cx="215.7" cy="117.1" r="1" fill="#e8e8e8"/></g><text class="cap2" text-anchor="middle" x="115.8" y="483.6">permeable pavement with 60%</text><text class="cap2" text-anchor="middle" x="115.8" y="492.3">grass scenario</text>
<g transform="translate(293.4 338.3)"><g clip-path="url(#mcp6)"><g filter="url(#bl)"><rect x="-5" y="-5" width="198" height="136" fill="#FFFF00"/><path d="M101.8 0.9C102.6 -0.3 104.6 -1.1 110 -1.5C115.4 -1.9 130.5 -2.7 134.3 -1.5C138.2 -0.3 134.1 3.7 133.1 5.7C132.1 7.7 129.9 9.2 128.3 10.6C126.7 12 125.1 14 123.5 14.2C121.9 14.4 120.4 12.8 118.6 11.8C116.8 10.8 114.8 9.1 112.6 8.1C110.4 7.1 107.2 6.9 105.4 5.7C103.6 4.5 101 2.1 101.8 0.9Z" fill="#A0D70F" /><path d="M68.4 -2C69.3 -0.7 69.7 6.1 70.8 8.1C71.9 10.1 74.1 12.2 76.8 13C79.5 13.8 87.4 14 90.9 14.2C94.4 14.4 99.8 14.4 103 14.7C106.2 15 112.3 15.7 115 16.6C117.7 17.5 121.7 20 123.5 21.4C125.3 22.8 127 26.1 128.3 27.4C129.6 28.7 131.6 30.9 133.1 31.1C134.6 31.3 137.4 29.2 139.2 28.7C141 28.2 144.3 27.1 146.4 27.4C148.5 27.7 152.4 30 154.8 31.1C157.2 32.2 162.2 34.1 164.5 35.9C166.8 37.7 170.3 41.9 171.7 44.3C173.1 46.7 175 51.4 175.3 54C175.6 56.6 174.9 61.2 174.1 63.6C173.3 66 170.9 69.8 169.3 72.1C167.7 74.4 163.9 78.1 162.1 80.5C160.3 82.9 157.3 87.5 155.6 90C153.9 92.5 150.9 96.5 149.5 99C148.1 101.5 146.1 106.3 145 109C143.9 111.7 141.7 116.6 141 119C140.3 121.4 144.3 125.9 139.5 127C134.7 128.1 108.3 130.6 105 127C101.7 123.4 113 108.9 115 100C117 91.1 120 69.3 120 60C120 50.7 117.7 34.7 115 30C112.3 25.3 105.3 26.1 100 25C94.7 23.9 79.5 23.3 75 22C70.5 20.7 67.5 18.2 66 15C64.5 11.8 63.7 0.3 64 -2C64.3 -4.3 67.5 -3.3 68.4 -2Z" fill="#A0D70F" /><path d="M66 -2C66.3 -2.9 67.2 5.9 68 8C68.8 10.1 69.6 12.4 72 13.5C74.4 14.6 82 16 86.1 16.6C90.2 17.2 99.3 17.3 103 17.8C106.7 18.3 111.4 19.2 113.8 20.2C116.2 21.2 119.5 23.5 121.1 25C122.7 26.5 124.5 29.6 125.9 31.1C127.3 32.6 130.5 35.6 131.9 35.9C133.3 36.2 135.1 34.1 136.7 33.5C138.3 32.9 142.1 30.8 144 31.1C145.9 31.4 149.8 34.5 151.2 35.9C152.6 37.3 153.4 41 154.8 41.9C156.2 42.8 160.4 42.3 162 43C163.6 43.7 165.7 45.4 166.5 47C167.3 48.6 168 52.8 168.1 55.2C168.2 57.6 167.9 62.5 166.9 64.8C165.9 67.1 162.8 70.5 160.9 72.1C159 73.7 154.7 75.8 152.4 76.9C150.1 78 146.1 79.5 144 80.5C141.9 81.5 138.8 82.8 136.7 84.1C134.6 85.4 130.5 88.3 128.5 90.2C126.5 92.1 123.5 96.2 122 98.6C120.5 101 118.3 105.6 117 108.3C115.7 111 113.2 116.5 112.5 119C111.8 121.5 112.5 125.9 111.5 127C110.5 128.1 104.5 130.6 105 127C105.5 123.4 113 108.9 115 100C117 91.1 120 69.3 120 60C120 50.7 117.7 34.7 115 30C112.3 25.3 105.3 26.1 100 25C94.7 23.9 79.5 23.3 75 22C70.5 20.7 67.2 18.2 66 15C64.8 11.8 65.7 -1.1 66 -2Z" fill="#32C846" /><path d="M137.6 58C138.2 57.3 139.9 56.9 141 57C142.1 57.1 144.6 57.8 146 58.5C147.4 59.2 150.7 60.7 151.6 62C152.5 63.3 152.8 66.5 152.5 68C152.2 69.5 150.3 72 149 73C147.7 74 144.6 75.1 143 75.7C141.4 76.3 138.6 76.5 137 77.5C135.4 78.5 131.5 83.2 131 83C130.5 82.8 132.4 77.7 133 76C133.6 74.3 135 71.9 135.5 70C136 68.1 136.2 63.6 136.5 62C136.8 60.4 137 58.7 137.6 58Z" fill="#14B4F5" /><path d="M158 43C158.2 42.2 162.3 43 164 44C165.7 45 167.2 47 168 49C168.8 51 168.9 53.8 168.5 56C168.1 58.2 166.9 60.7 165.5 62C164.1 63.3 161.4 64 160 64C158.6 64 156.5 63.3 157 62C157.5 60.7 162 58.2 163 56C164 53.8 163.8 51.2 163 49C162.2 46.8 157.8 43.8 158 43Z" fill="#14B4F5" /><path d="M160.5 45.5C160.8 44.8 162.9 45.6 163.8 46.5C164.7 47.4 165.7 49.3 166 51C166.3 52.7 166 55 165.5 56.5C165 58 163.7 59.9 163 60C162.3 60.1 161.6 58.5 161.5 57C161.4 55.5 162.5 52.9 162.3 51C162.1 49.1 160.2 46.2 160.5 45.5Z" fill="#2878D2" /><path d="M-2 24.5C-1.7 14.4 -0.3 24.3 0.6 23.6C1.5 22.9 3.2 20.4 4.4 19.2C5.6 18 8.3 16 9.9 14.9C11.5 13.8 14.7 12 16.4 11.1C18.1 10.2 21.3 8.6 23 7.8C24.7 7 27.8 5.8 29.5 5.1C31.2 4.4 34.4 3.3 36 2.6C37.6 1.9 40.6 0.8 41.5 0.2C42.4 -0.4 40.1 -1.7 43 -2C45.9 -2.3 60.7 -2.7 63.5 -2C66.3 -1.3 63.8 1.4 64 3C64.2 4.6 64.6 8.4 65 10C65.4 11.6 66.3 13.9 67 15C67.7 16.1 69.3 17.8 70.5 18.5C71.7 19.2 73.9 20.3 76 20.5C78.1 20.7 82.5 20.1 86.1 20.2C89.7 20.3 99.3 20.9 103 21.4C106.7 21.9 111.4 22.7 113.8 23.8C116.2 24.9 119.6 28.3 121.1 29.9C122.6 31.5 124.1 34 124.7 35.9C125.3 37.8 124.7 43 125.9 44.3C127.1 45.6 132.6 44.8 134 45.8C135.4 46.8 136 49.8 136.3 52C136.6 54.2 136.5 59.6 136.5 62C136.5 64.4 136.4 68.1 136 70C135.6 71.9 134.2 74.6 133.5 76C132.8 77.4 132.1 78.7 131 80.5C129.9 82.3 127.1 87.1 125.6 89.7C124.1 92.3 121.1 97.3 119.6 99.7C118.1 102.1 115.9 105.6 114.6 107.7C113.3 109.8 110.5 113.8 109.6 115.7C108.7 117.6 107.9 120.2 107.6 121.7C107.3 123.2 112.7 126.3 107 127C101.3 127.7 71.6 128.2 65.1 127C58.6 125.8 60.2 119.9 58.5 118.2C56.8 116.5 53.5 115.4 52 114.1C50.5 112.8 48.2 109.7 47.1 108.3C46 106.9 44.9 104.5 43.8 103.4C42.7 102.3 40.6 100.9 38.9 100.2C37.2 99.5 32.9 98.6 30.7 98.5C28.5 98.4 24.7 99 22.5 99.3C20.3 99.6 16.5 100.7 14.3 101C12.1 101.3 8.1 102 6.1 101.8C4.1 101.6 0.7 99.6 -0.4 99.3C-1.5 99 -1.8 109.3 -2 99.3C-2.2 89.3 -2.3 34.6 -2 24.5Z" fill="none" stroke="#14B4F5" stroke-width="3" stroke-linejoin="round"/><path d="M-2 -2C4.2 -6.2 53.8 -4.7 60 -2C66.2 0.7 66.2 20.8 60 25C53.8 29.2 4.2 42.7 -2 40C-8.2 37.3 -8.2 2.2 -2 -2Z" fill="#A0D70F" /><path d="M-2 11.1C-1.8 8.2 -0.8 11.5 0 11.1C0.8 10.7 4.3 7.5 5.5 6.7C6.7 5.9 10.7 4 12 3.4C13.3 2.8 17.6 1.3 18.6 1C19.6 0.7 21.4 0.3 21.9 0C22.4 -0.3 20.2 -1.8 24 -2C27.8 -2.2 56.4 -4.7 60 -2C63.6 0.7 66.2 20.8 60 25C53.8 29.2 4.2 41.4 -2 40C-8.2 38.6 -2.2 14 -2 11.1Z" fill="#32C846" /><path d="M-2 16C-1.8 13.6 -0.8 16.4 0 16C0.8 15.6 4.3 12.9 5.5 12.1C6.7 11.3 10.7 9 12 8.3C13.3 7.7 17.3 6.1 18.6 5.6C19.9 5.1 23.8 3.4 25.1 2.9C26.4 2.4 30.8 1 31.7 0.7C32.6 0.4 33.5 0.3 33.9 0C34.3 -0.3 33.4 -1.8 36 -2C38.6 -2.2 57.6 -4.7 60 -2C62.4 0.7 66.2 20.8 60 25C53.8 29.2 4.2 40.9 -2 40C-8.2 39.1 -2.2 18.4 -2 16Z" fill="#14B4F5" /><path d="M-2 19.2C-1.8 17.1 -0.8 19.6 0 19.2C0.8 18.8 4.3 15.7 5.5 14.9C6.7 14.1 10.7 11.5 12 10.8C13.3 10.1 17.3 8.2 18.6 7.6C19.9 7 23.8 5.2 25.1 4.7C26.4 4.2 30.5 2.8 31.7 2.3C32.9 1.8 36.4 0.6 37.1 0.2C37.8 -0.2 36.7 -1.8 39 -2C41.3 -2.2 57.9 -4.7 60 -2C62.1 0.7 66.2 20.8 60 25C53.8 29.2 4.2 40.6 -2 40C-8.2 39.4 -2.2 21.3 -2 19.2Z" fill="#2878D2" /><path d="M-2 98C-1.8 95.1 -0.8 97.7 0 98C0.8 98.3 4.7 100.4 6.1 100.6C7.5 100.8 12.7 100 14.3 99.8C15.9 99.5 20.9 98.3 22.5 98.1C24.1 97.8 29.1 97.2 30.7 97.3C32.3 97.4 37.6 98.5 38.9 99C40.2 99.5 43 101.4 43.8 102.2C44.6 103 46.3 106 47.1 107.1C47.9 108.2 50.9 111.9 52 112.9C53.1 113.9 57.1 115.6 58.5 117C59.9 118.4 72 126 66 127C60 128 4.8 129.9 -2 127C-8.8 124.1 -2.2 100.9 -2 98Z" fill="#2878D2" /><path d="M-2 105.9C-1.8 103.8 -0.8 105.7 0 105.9C0.8 106.1 4.5 107.7 6.1 107.9C7.7 108.1 14 108.2 16 108.3C18 108.4 24 108.9 25.8 109.2C27.6 109.5 32.5 111 34 111.6C35.5 112.2 39.2 114.2 40.5 114.9C41.8 115.6 46.3 118.5 47.1 119C47.9 119.5 48.5 119.2 48.7 120C48.9 120.8 54.1 126.3 49 127C43.9 127.7 3.1 129.1 -2 127C-7.1 124.9 -2.2 108 -2 105.9Z" fill="#14B4F5" /><path d="M-2 112.4C-1.8 110.9 -0.8 112.2 0 112.4C0.8 112.6 4.7 114.2 6.1 114.4C7.5 114.6 12.8 114.2 14.3 114.1C15.8 114 19.6 113.2 20.9 113.3C22.2 113.4 26.3 114.5 27.4 114.9C28.5 115.3 31.6 117.2 32.3 117.7C33 118.2 34.5 119.1 34.8 120C35.1 120.9 38.7 126.3 35 127C31.3 127.7 1.7 128.5 -2 127C-5.7 125.5 -2.2 113.9 -2 112.4Z" fill="#32C846" /><path d="M-2 117C-1.5 116 1.9 117.1 3 117.2C4.1 117.3 7.9 117.8 9 118C10.1 118.2 13.3 118.4 14 119.3C14.7 120.2 17.6 126.2 16 127C14.4 127.8 -0.2 128 -2 127C-3.8 126 -2.5 118 -2 117Z" fill="#A0D70F" /><ellipse cx="29" cy="104.6" rx="3.5" ry="1.4" fill="#14B4F5"/><path d="M-2 24.5C-1.7 14.4 -0.3 24.3 0.6 23.6C1.5 22.9 3.2 20.4 4.4 19.2C5.6 18 8.3 16 9.9 14.9C11.5 13.8 14.7 12 16.4 11.1C18.1 10.2 21.3 8.6 23 7.8C24.7 7 27.8 5.8 29.5 5.1C31.2 4.4 34.4 3.3 36 2.6C37.6 1.9 40.6 0.8 41.5 0.2C42.4 -0.4 40.1 -1.7 43 -2C45.9 -2.3 60.7 -2.7 63.5 -2C66.3 -1.3 63.8 1.4 64 3C64.2 4.6 64.6 8.4 65 10C65.4 11.6 66.3 13.9 67 15C67.7 16.1 69.3 17.8 70.5 18.5C71.7 19.2 73.9 20.3 76 20.5C78.1 20.7 82.5 20.1 86.1 20.2C89.7 20.3 99.3 20.9 103 21.4C106.7 21.9 111.4 22.7 113.8 23.8C116.2 24.9 119.6 28.3 121.1 29.9C122.6 31.5 124.1 34 124.7 35.9C125.3 37.8 124.7 43 125.9 44.3C127.1 45.6 132.6 44.8 134 45.8C135.4 46.8 136 49.8 136.3 52C136.6 54.2 136.5 59.6 136.5 62C136.5 64.4 136.4 68.1 136 70C135.6 71.9 134.2 74.6 133.5 76C132.8 77.4 132.1 78.7 131 80.5C129.9 82.3 127.1 87.1 125.6 89.7C124.1 92.3 121.1 97.3 119.6 99.7C118.1 102.1 115.9 105.6 114.6 107.7C113.3 109.8 110.5 113.8 109.6 115.7C108.7 117.6 107.9 120.2 107.6 121.7C107.3 123.2 112.7 126.3 107 127C101.3 127.7 71.6 128.2 65.1 127C58.6 125.8 60.2 119.9 58.5 118.2C56.8 116.5 53.5 115.4 52 114.1C50.5 112.8 48.2 109.7 47.1 108.3C46 106.9 44.9 104.5 43.8 103.4C42.7 102.3 40.6 100.9 38.9 100.2C37.2 99.5 32.9 98.6 30.7 98.5C28.5 98.4 24.7 99 22.5 99.3C20.3 99.6 16.5 100.7 14.3 101C12.1 101.3 8.1 102 6.1 101.8C4.1 101.6 0.7 99.6 -0.4 99.3C-1.5 99 -1.8 109.3 -2 99.3C-2.2 89.3 -2.3 34.6 -2 24.5Z" fill="#0F5F96" stroke="#2878D2" stroke-width="1.4" stroke-linejoin="round" paint-order="stroke"/><path d="M26.1 60C26.3 58.7 29.1 56.3 31 55.2C32.9 54.1 37.4 52.2 40.6 51.6C43.8 51 51.2 50.7 55.1 50.4C59 50.1 66.4 49.9 69.6 49.2C72.8 48.5 77 46.3 79.2 45.5C81.4 44.7 85.1 40.8 86 43.1C86.9 45.4 87.2 60 86 62.9C84.8 65.8 79.1 64.1 76.8 64.8C74.5 65.5 70.7 67.5 68.4 68.5C66.1 69.5 62.6 71.6 59.9 72.1C57.2 72.6 50.8 72.6 47.9 72.1C45 71.6 40.6 69.5 38.2 68.5C35.8 67.5 31.4 65.9 29.8 64.8C28.2 63.7 25.9 61.3 26.1 60Z" fill="#2878D2" /><path d="M35.8 57.6C36.5 56.6 40.1 55.2 43 54.7C45.9 54.2 54.1 53.8 57.5 54C60.9 54.2 66.8 55.3 68.4 56.4C70 57.5 70.1 60.8 69.6 62.4C69.1 64 66.3 67.4 64.7 68.5C63.1 69.6 59.3 70.7 57.5 70.9C55.7 71.1 53.3 70.4 51.5 69.7C49.7 69 45.8 67 44 66C42.2 65 39.1 63.1 38 62C36.9 60.9 35.1 58.6 35.8 57.6Z" fill="#14B4F5" /><path d="M57.5 57.5C58.3 56.7 60.8 56.8 62 57.3C63.2 57.8 64.2 59.2 64.5 60.5C64.8 61.8 64.4 64 63.5 65C62.6 66 60.1 67 59 66.5C57.9 66 57.2 63.5 57 62C56.8 60.5 56.7 58.3 57.5 57.5Z" fill="#32C846" /><circle cx="60.6" cy="61" r="1.6" fill="#FFFF00"/><circle cx="60.2" cy="60.3" r="1" fill="#FF0000"/><circle cx="39.5" cy="66.5" r="1" fill="#A0D70F"/><rect x="90.7" y="44.2" width="31.5" height="16.5" fill="#2878D2"/><rect x="101.5" y="44.2" width="7" height="16.5" fill="#0F5F96"/><rect x="108.5" y="44.2" width="9.5" height="16.5" fill="#14B4F5"/><path d="M84 52.6H92" stroke="#d8e8f0" stroke-width="0.6"/><g transform="scale(1.0099 1.0175)"><use href="#veg"/><use href="#bld"/></g></g></g><path d="M-0.6 0V122.8H182.8" stroke="#b4bfcc" stroke-width="1" fill="none"/><path d="M-2.8 122.3H-1.2M-2.8 110.1H-1.2M-2.8 97.8H-1.2M-2.8 85.6H-1.2M-2.8 73.4H-1.2M-2.8 61.1H-1.2M-2.8 48.9H-1.2M-2.8 36.7H-1.2M-2.8 24.5H-1.2M-2.8 12.2H-1.2M-2.8 0H-1.2M0 123.1V124.7M12.2 123.1V124.7M24.4 123.1V124.7M36.6 123.1V124.7M48.7 123.1V124.7M60.9 123.1V124.7M73.1 123.1V124.7M85.3 123.1V124.7M97.5 123.1V124.7M109.7 123.1V124.7M121.9 123.1V124.7M134.1 123.1V124.7M146.2 123.1V124.7M158.4 123.1V124.7M170.6 123.1V124.7M182.8 123.1V124.7" stroke="#333" stroke-width="0.7" fill="none"/><g class="tk" text-anchor="end"><text x="-3.4" y="123.5">0.00</text><text x="-3.4" y="111.3">30.00</text><text x="-3.4" y="99">60.00</text><text x="-3.4" y="86.8">90.00</text><text x="-3.4" y="74.6">120.00</text><text x="-3.4" y="62.4">150.00</text><text x="-3.4" y="50.1">180.00</text><text x="-3.4" y="37.9">210.00</text><text x="-3.4" y="25.7">240.00</text><text x="-3.4" y="13.4">270.00</text><text x="-3.4" y="1.2">300.00</text></g><g class="tk" text-anchor="middle"><text x="0" y="129.5">0.00</text><text x="12.2" y="129.5">30.00</text><text x="24.4" y="129.5">60.00</text><text x="36.6" y="129.5">90.00</text><text x="48.7" y="129.5">120.00</text><text x="60.9" y="129.5">150.00</text><text x="73.1" y="129.5">180.00</text><text x="85.3" y="129.5">210.00</text><text x="97.5" y="129.5">240.00</text><text x="109.7" y="129.5">270.00</text><text x="121.9" y="129.5">300.00</text><text x="134.1" y="129.5">330.00</text><text x="146.2" y="129.5">360.00</text><text x="158.4" y="129.5">390.00</text><text x="170.6" y="129.5">420.00</text><text x="182.8" y="129.5">450.00</text></g><text class="ax" text-anchor="middle" x="91.4" y="136.1">X (m)</text><text class="ax" text-anchor="middle" transform="translate(-19.3 61.1) rotate(-90)">Y (m)</text><text class="lt" x="186.7" y="5" textLength="68.4" lengthAdjust="spacingAndGlyphs" style="font-size:4.97px">absolute difference Potential</text><text class="lt" x="186.7" y="10.4" textLength="38.3" lengthAdjust="spacingAndGlyphs" style="font-size:4.97px">Air Temperature</text><rect x="186.6" y="15.9" width="14.2" height="5.3" fill="#0F5F96" stroke="#76828f" stroke-width="0.5"/><text class="ll" x="206.1" y="20.1" style="font-size:4.87px">below -0.07 K</text><rect x="186.6" y="22.9" width="14.2" height="5.3" fill="#2878D2" stroke="#76828f" stroke-width="0.5"/><text class="ll" x="206.1" y="27" style="font-size:4.87px">-0.07 to -0.06 K</text><rect x="186.6" y="29.8" width="14.2" height="5.3" fill="#14B4F5" stroke="#76828f" stroke-width="0.5"/><text class="ll" x="206.1" y="33.9" style="font-size:4.87px">-0.06 to -0.05 K</text><rect x="186.6" y="36.7" width="14.2" height="5.3" fill="#32C846" stroke="#76828f" stroke-width="0.5"/><text class="ll" x="206.1" y="40.9" style="font-size:4.87px">-0.05 to -0.04 K</text><rect x="186.6" y="43.6" width="14.2" height="5.3" fill="#A0D70F" stroke="#76828f" stroke-width="0.5"/><text class="ll" x="206.1" y="47.8" style="font-size:4.87px">-0.04 to -0.03 K</text><rect x="186.6" y="50.6" width="14.2" height="5.3" fill="#FFFF00" stroke="#76828f" stroke-width="0.5"/><text class="ll" x="206.1" y="54.7" style="font-size:4.87px">-0.03 to -0.02 K</text><rect x="186.6" y="57.5" width="14.2" height="5.3" fill="#FFA500" stroke="#76828f" stroke-width="0.5"/><text class="ll" x="206.1" y="61.6" style="font-size:4.87px">-0.02 to -0.01 K</text><rect x="186.6" y="64.4" width="14.2" height="5.3" fill="#FF0000" stroke="#76828f" stroke-width="0.5"/><text class="ll" x="206.1" y="68.6" style="font-size:4.87px">-0.01 to 0.00 K</text><rect x="186.6" y="71.3" width="14.2" height="5.3" fill="#FF00AA" stroke="#76828f" stroke-width="0.5"/><text class="ll" x="206.1" y="75.5" style="font-size:4.87px">0.00 to 0.01 K</text><rect x="186.6" y="78.2" width="14.2" height="5.3" fill="#FF3CFF" stroke="#76828f" stroke-width="0.5"/><text class="ll" x="206.1" y="82.4" style="font-size:4.87px">above 0.01 K</text><text class="ll" x="186.3" y="95" style="font-size:4.87px">Min: -0.50 K</text><text class="ll" x="186.3" y="100.3" style="font-size:4.87px">Max: 0.09 K</text><circle cx="216.8" cy="115.3" r="8" fill="#c3c3c3"/><path d="M213.1 104.6L223.4 122.9L218.5 120.1L215.9 125.7Z" fill="#000"/><circle cx="216.8" cy="117.3" r="1" fill="#e8e8e8"/></g><text class="cap2" text-anchor="middle" x="390" y="482.3">permeable pavement with 80%</text><text class="cap2" text-anchor="middle" x="390" y="490.9">grass scenario</text>
</svg>
</body></html>
